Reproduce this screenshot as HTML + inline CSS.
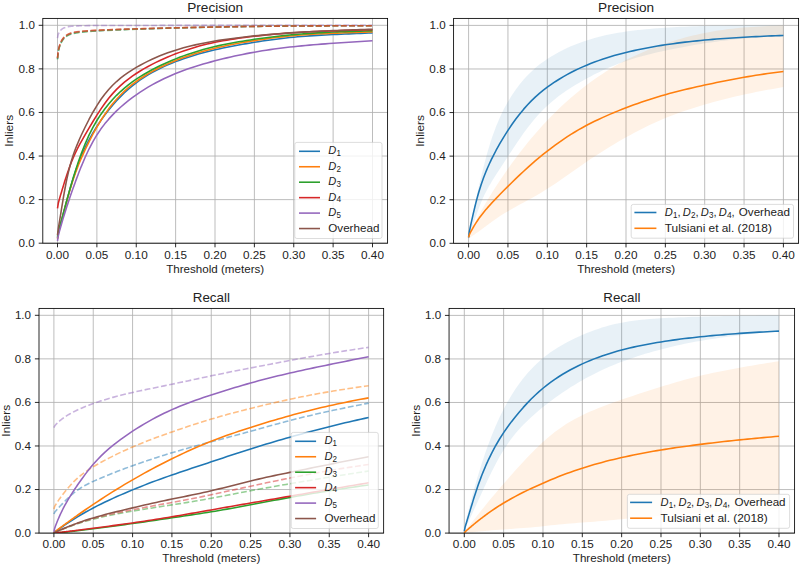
<!DOCTYPE html>
<html><head><meta charset="utf-8"><style>
html,body{margin:0;padding:0;background:#fff;overflow:hidden;}
svg{display:block;}
text{font-family:"Liberation Sans", sans-serif; fill:#222;}
</style></head><body>
<svg width="801" height="564" viewBox="0 0 801 564">
<rect width="801" height="564" fill="#fff"/>
<clipPath id="clipTL"><rect x="42.8" y="18.4" width="344.80" height="224.80"/></clipPath>
<path d="M57.50,18.40V243.20M96.88,18.40V243.20M136.25,18.40V243.20M175.62,18.40V243.20M215.00,18.40V243.20M254.38,18.40V243.20M293.75,18.40V243.20M333.12,18.40V243.20M372.50,18.40V243.20M42.80,243.20H387.60M42.80,199.62H387.60M42.80,156.04H387.60M42.80,112.46H387.60M42.80,68.88H387.60M42.80,25.30H387.60" stroke="#b0b0b0" stroke-width="0.84" fill="none"/>
<g clip-path="url(#clipTL)">
<path d="M57.50,58.60 L58.29,51.00 L59.08,47.64 L59.86,45.12 L60.65,43.10 L61.44,41.46 L62.23,40.09 L63.01,38.95 L63.80,37.99 L64.59,37.18 L65.38,36.48 L66.16,35.88 L66.95,35.37 L67.74,34.92 L68.53,34.53 L69.31,34.18 L70.10,33.88 L70.89,33.61 L71.67,33.37 L72.46,33.15 L73.25,32.96 L74.04,32.78 L74.83,32.62 L75.61,32.48 L76.40,32.34 L77.19,32.22 L77.97,32.11 L78.76,32.00 L79.55,31.90 L80.34,31.81 L81.12,31.72 L85.06,31.34 L89.00,31.04 L92.94,30.78 L96.88,30.56 L100.81,30.35 L104.75,30.17 L108.69,29.99 L112.62,29.83 L116.56,29.68 L120.50,29.53 L124.44,29.39 L128.38,29.26 L132.31,29.13 L136.25,29.00 L140.19,28.88 L144.12,28.76 L148.06,28.65 L152.00,28.54 L155.94,28.43 L159.88,28.32 L163.81,28.22 L167.75,28.11 L171.69,28.01 L175.62,27.92 L179.56,27.82 L183.50,27.73 L187.44,27.64 L191.38,27.55 L195.31,27.46 L199.25,27.38 L203.19,27.29 L207.12,27.21 L211.06,27.14 L215.00,27.06 L218.94,26.99 L222.88,26.91 L226.81,26.84 L230.75,26.77 L234.69,26.71 L238.62,26.64 L242.56,26.58 L246.50,26.52 L250.44,26.46 L254.38,26.41 L258.31,26.36 L262.25,26.31 L266.19,26.26 L270.12,26.21 L274.06,26.17 L278.00,26.13 L281.94,26.10 L285.88,26.06 L289.81,26.03 L293.75,26.00 L297.69,25.98 L301.62,25.95 L305.56,25.93 L309.50,25.91 L313.44,25.89 L317.38,25.88 L321.31,25.86 L325.25,25.85 L329.19,25.83 L333.12,25.82 L337.06,25.81 L341.00,25.80 L344.94,25.79 L348.88,25.78 L352.81,25.77 L356.75,25.76 L360.69,25.76 L364.62,25.75 L368.56,25.74 L372.50,25.74" stroke="#8c564b" stroke-opacity="0.5" stroke-width="1.575" fill="none" stroke-dasharray="5.83 2.52" stroke-linejoin="round"/>
<path d="M57.50,58.82 L58.29,51.21 L59.08,47.86 L59.86,45.33 L60.65,43.31 L61.44,41.66 L62.23,40.30 L63.01,39.15 L63.80,38.19 L64.59,37.37 L65.38,36.68 L66.16,36.08 L66.95,35.56 L67.74,35.11 L68.53,34.71 L69.31,34.37 L70.10,34.06 L70.89,33.79 L71.67,33.55 L72.46,33.33 L73.25,33.13 L74.04,32.96 L74.83,32.79 L75.61,32.65 L76.40,32.51 L77.19,32.38 L77.97,32.27 L78.76,32.16 L79.55,32.06 L80.34,31.96 L81.12,31.87 L85.06,31.48 L89.00,31.17 L92.94,30.90 L96.88,30.67 L100.81,30.46 L104.75,30.27 L108.69,30.09 L112.62,29.92 L116.56,29.76 L120.50,29.61 L124.44,29.47 L128.38,29.33 L132.31,29.20 L136.25,29.07 L140.19,28.95 L144.12,28.83 L148.06,28.71 L152.00,28.59 L155.94,28.48 L159.88,28.37 L163.81,28.27 L167.75,28.16 L171.69,28.06 L175.62,27.96 L179.56,27.86 L183.50,27.77 L187.44,27.67 L191.38,27.58 L195.31,27.49 L199.25,27.41 L203.19,27.32 L207.12,27.24 L211.06,27.16 L215.00,27.08 L218.94,27.01 L222.88,26.93 L226.81,26.86 L230.75,26.79 L234.69,26.72 L238.62,26.66 L242.56,26.59 L246.50,26.53 L250.44,26.47 L254.38,26.42 L258.31,26.36 L262.25,26.31 L266.19,26.26 L270.12,26.22 L274.06,26.18 L278.00,26.14 L281.94,26.10 L285.88,26.07 L289.81,26.03 L293.75,26.01 L297.69,25.98 L301.62,25.95 L305.56,25.93 L309.50,25.91 L313.44,25.89 L317.38,25.88 L321.31,25.86 L325.25,25.85 L329.19,25.83 L333.12,25.82 L337.06,25.81 L341.00,25.80 L344.94,25.79 L348.88,25.78 L352.81,25.77 L356.75,25.76 L360.69,25.76 L364.62,25.75 L368.56,25.74 L372.50,25.74" stroke="#1f77b4" stroke-opacity="0.5" stroke-width="1.575" fill="none" stroke-dasharray="5.83 2.52" stroke-linejoin="round"/>
<path d="M57.50,38.14 L58.29,34.18 L59.08,32.48 L59.86,31.24 L60.65,30.27 L61.44,29.51 L62.23,28.90 L63.01,28.40 L63.80,27.99 L64.59,27.65 L65.38,27.38 L66.16,27.14 L66.95,26.95 L67.74,26.78 L68.53,26.64 L69.31,26.52 L70.10,26.42 L70.89,26.33 L71.67,26.25 L72.46,26.18 L73.25,26.12 L74.04,26.07 L74.83,26.02 L75.61,25.97 L76.40,25.94 L77.19,25.90 L77.97,25.87 L78.76,25.84 L79.55,25.82 L80.34,25.79 L81.12,25.77 L85.06,25.68 L89.00,25.62 L92.94,25.58 L96.88,25.55 L100.81,25.53 L104.75,25.51 L108.69,25.50 L112.62,25.49 L116.56,25.48 L120.50,25.47 L124.44,25.47 L128.38,25.46 L132.31,25.45 L136.25,25.45 L140.19,25.44 L144.12,25.43 L148.06,25.43 L152.00,25.42 L155.94,25.42 L159.88,25.41 L163.81,25.41 L167.75,25.40 L171.69,25.40 L175.62,25.39 L179.56,25.39 L183.50,25.38 L187.44,25.38 L191.38,25.38 L195.31,25.37 L199.25,25.37 L203.19,25.36 L207.12,25.36 L211.06,25.36 L215.00,25.35 L218.94,25.35 L222.88,25.35 L226.81,25.35 L230.75,25.34 L234.69,25.34 L238.62,25.34 L242.56,25.33 L246.50,25.33 L250.44,25.33 L254.38,25.33 L258.31,25.33 L262.25,25.32 L266.19,25.32 L270.12,25.32 L274.06,25.32 L278.00,25.32 L281.94,25.32 L285.88,25.31 L289.81,25.31 L293.75,25.31 L297.69,25.31 L301.62,25.31 L305.56,25.31 L309.50,25.31 L313.44,25.31 L317.38,25.31 L321.31,25.31 L325.25,25.30 L329.19,25.30 L333.12,25.30 L337.06,25.30 L341.00,25.30 L344.94,25.30 L348.88,25.30 L352.81,25.30 L356.75,25.30 L360.69,25.30 L364.62,25.30 L368.56,25.30 L372.50,25.30" stroke="#9467bd" stroke-opacity="0.5" stroke-width="1.575" fill="none" stroke-dasharray="5.83 2.52" stroke-linejoin="round"/>
<path d="M57.50,59.47 L58.29,51.85 L59.08,48.49 L59.86,45.95 L60.65,43.93 L61.44,42.27 L62.23,40.89 L63.01,39.74 L63.80,38.77 L64.59,37.95 L65.38,37.24 L66.16,36.63 L66.95,36.11 L67.74,35.65 L68.53,35.25 L69.31,34.89 L70.10,34.58 L70.89,34.30 L71.67,34.05 L72.46,33.83 L73.25,33.63 L74.04,33.44 L74.83,33.27 L75.61,33.12 L76.40,32.98 L77.19,32.85 L77.97,32.72 L78.76,32.61 L79.55,32.50 L80.34,32.40 L81.12,32.31 L85.06,31.90 L89.00,31.56 L92.94,31.27 L96.88,31.02 L100.81,30.78 L104.75,30.57 L108.69,30.37 L112.62,30.19 L116.56,30.01 L120.50,29.85 L124.44,29.69 L128.38,29.54 L132.31,29.39 L136.25,29.25 L140.19,29.11 L144.12,28.98 L148.06,28.85 L152.00,28.73 L155.94,28.61 L159.88,28.49 L163.81,28.38 L167.75,28.26 L171.69,28.16 L175.62,28.05 L179.56,27.95 L183.50,27.84 L187.44,27.75 L191.38,27.65 L195.31,27.56 L199.25,27.47 L203.19,27.38 L207.12,27.29 L211.06,27.21 L215.00,27.13 L218.94,27.05 L222.88,26.98 L226.81,26.90 L230.75,26.83 L234.69,26.76 L238.62,26.69 L242.56,26.63 L246.50,26.57 L250.44,26.51 L254.38,26.45 L258.31,26.39 L262.25,26.34 L266.19,26.29 L270.12,26.25 L274.06,26.20 L278.00,26.16 L281.94,26.12 L285.88,26.09 L289.81,26.06 L293.75,26.03 L297.69,26.00 L301.62,25.97 L305.56,25.95 L309.50,25.93 L313.44,25.91 L317.38,25.89 L321.31,25.87 L325.25,25.86 L329.19,25.84 L333.12,25.83 L337.06,25.82 L341.00,25.81 L344.94,25.79 L348.88,25.78 L352.81,25.78 L356.75,25.77 L360.69,25.76 L364.62,25.75 L368.56,25.74 L372.50,25.74" stroke="#2ca02c" stroke-opacity="0.5" stroke-width="1.575" fill="none" stroke-dasharray="5.83 2.52" stroke-linejoin="round"/>
<path d="M57.50,58.17 L58.29,50.57 L59.08,47.22 L59.86,44.70 L60.65,42.69 L61.44,41.05 L62.23,39.69 L63.01,38.56 L63.80,37.60 L64.59,36.79 L65.38,36.10 L66.16,35.51 L66.95,35.00 L67.74,34.55 L68.53,34.17 L69.31,33.83 L70.10,33.53 L70.89,33.26 L71.67,33.03 L72.46,32.81 L73.25,32.62 L74.04,32.45 L74.83,32.30 L75.61,32.16 L76.40,32.03 L77.19,31.91 L77.97,31.80 L78.76,31.69 L79.55,31.60 L80.34,31.51 L81.12,31.42 L85.06,31.06 L89.00,30.78 L92.94,30.53 L96.88,30.32 L100.81,30.13 L104.75,29.95 L108.69,29.79 L112.62,29.64 L116.56,29.50 L120.50,29.36 L124.44,29.23 L128.38,29.11 L132.31,28.99 L136.25,28.87 L140.19,28.76 L144.12,28.65 L148.06,28.54 L152.00,28.43 L155.94,28.33 L159.88,28.23 L163.81,28.13 L167.75,28.03 L171.69,27.94 L175.62,27.85 L179.56,27.75 L183.50,27.66 L187.44,27.58 L191.38,27.49 L195.31,27.41 L199.25,27.32 L203.19,27.24 L207.12,27.17 L211.06,27.09 L215.00,27.02 L218.94,26.95 L222.88,26.88 L226.81,26.81 L230.75,26.74 L234.69,26.68 L238.62,26.62 L242.56,26.56 L246.50,26.50 L250.44,26.44 L254.38,26.39 L258.31,26.34 L262.25,26.29 L266.19,26.25 L270.12,26.20 L274.06,26.16 L278.00,26.13 L281.94,26.09 L285.88,26.06 L289.81,26.03 L293.75,26.00 L297.69,25.98 L301.62,25.95 L305.56,25.93 L309.50,25.91 L313.44,25.89 L317.38,25.88 L321.31,25.86 L325.25,25.85 L329.19,25.83 L333.12,25.82 L337.06,25.81 L341.00,25.80 L344.94,25.79 L348.88,25.78 L352.81,25.77 L356.75,25.76 L360.69,25.76 L364.62,25.75 L368.56,25.74 L372.50,25.74" stroke="#ff7f0e" stroke-opacity="0.5" stroke-width="1.575" fill="none" stroke-dasharray="5.83 2.52" stroke-linejoin="round"/>
<path d="M57.50,57.95 L58.29,50.36 L59.08,47.01 L59.86,44.49 L60.65,42.49 L61.44,40.85 L62.23,39.49 L63.01,38.36 L63.80,37.40 L64.59,36.60 L65.38,35.91 L66.16,35.32 L66.95,34.81 L67.74,34.36 L68.53,33.98 L69.31,33.64 L70.10,33.34 L70.89,33.08 L71.67,32.85 L72.46,32.64 L73.25,32.45 L74.04,32.28 L74.83,32.13 L75.61,31.99 L76.40,31.86 L77.19,31.74 L77.97,31.63 L78.76,31.53 L79.55,31.44 L80.34,31.35 L81.12,31.27 L85.06,30.92 L89.00,30.65 L92.94,30.41 L96.88,30.21 L100.81,30.02 L104.75,29.85 L108.69,29.70 L112.62,29.55 L116.56,29.41 L120.50,29.28 L124.44,29.16 L128.38,29.04 L132.31,28.92 L136.25,28.81 L140.19,28.69 L144.12,28.59 L148.06,28.48 L152.00,28.38 L155.94,28.28 L159.88,28.18 L163.81,28.08 L167.75,27.99 L171.69,27.90 L175.62,27.81 L179.56,27.72 L183.50,27.63 L187.44,27.55 L191.38,27.47 L195.31,27.39 L199.25,27.31 L203.19,27.23 L207.12,27.15 L211.06,27.08 L215.00,27.01 L218.94,26.94 L222.88,26.87 L226.81,26.80 L230.75,26.74 L234.69,26.67 L238.62,26.61 L242.56,26.55 L246.50,26.49 L250.44,26.43 L254.38,26.38 L258.31,26.33 L262.25,26.28 L266.19,26.23 L270.12,26.19 L274.06,26.15 L278.00,26.11 L281.94,26.07 L285.88,26.04 L289.81,26.01 L293.75,25.98 L297.69,25.96 L301.62,25.94 L305.56,25.92 L309.50,25.90 L313.44,25.88 L317.38,25.86 L321.31,25.85 L325.25,25.84 L329.19,25.82 L333.12,25.81 L337.06,25.80 L341.00,25.79 L344.94,25.78 L348.88,25.78 L352.81,25.77 L356.75,25.76 L360.69,25.75 L364.62,25.75 L368.56,25.74 L372.50,25.74" stroke="#d62728" stroke-opacity="0.5" stroke-width="1.575" fill="none" stroke-dasharray="5.83 2.52" stroke-linejoin="round"/>
<path d="M57.50,238.11 L58.29,233.10 L59.08,229.97 L59.86,226.97 L60.65,223.98 L61.44,220.99 L62.23,218.00 L63.01,215.00 L63.80,211.99 L64.59,209.00 L65.38,206.01 L66.16,203.05 L66.95,200.11 L67.74,197.21 L68.53,194.34 L69.31,191.53 L70.10,188.76 L70.89,186.06 L71.67,183.41 L72.46,180.82 L73.25,178.30 L74.04,175.84 L74.83,173.45 L75.61,171.12 L76.40,168.86 L77.19,166.66 L77.97,164.52 L78.76,162.44 L79.55,160.42 L80.34,158.46 L81.12,156.55 L85.06,147.72 L89.00,139.90 L92.94,132.87 L96.88,126.47 L100.81,120.57 L104.75,115.10 L108.69,110.00 L112.62,105.24 L116.56,100.79 L120.50,96.64 L124.44,92.77 L128.38,89.19 L132.31,85.86 L136.25,82.79 L140.19,79.95 L144.12,77.31 L148.06,74.87 L152.00,72.59 L155.94,70.47 L159.88,68.48 L163.81,66.61 L167.75,64.85 L171.69,63.19 L175.62,61.62 L179.56,60.14 L183.50,58.74 L187.44,57.41 L191.38,56.14 L195.31,54.94 L199.25,53.81 L203.19,52.73 L207.12,51.70 L211.06,50.73 L215.00,49.80 L218.94,48.91 L222.88,48.07 L226.81,47.26 L230.75,46.48 L234.69,45.73 L238.62,45.00 L242.56,44.30 L246.50,43.62 L250.44,42.96 L254.38,42.32 L258.31,41.70 L262.25,41.09 L266.19,40.52 L270.12,39.96 L274.06,39.43 L278.00,38.93 L281.94,38.45 L285.88,38.01 L289.81,37.59 L293.75,37.20 L297.69,36.84 L301.62,36.50 L305.56,36.19 L309.50,35.91 L313.44,35.64 L317.38,35.39 L321.31,35.16 L325.25,34.95 L329.19,34.74 L333.12,34.55 L337.06,34.37 L341.00,34.19 L344.94,34.02 L348.88,33.85 L352.81,33.69 L356.75,33.54 L360.69,33.38 L364.62,33.23 L368.56,33.08 L372.50,32.94" stroke="#1f77b4" stroke-width="1.575" fill="none" stroke-linejoin="round" stroke-linecap="butt"/>
<path d="M57.50,238.76 L58.29,233.63 L59.08,230.43 L59.86,227.37 L60.65,224.34 L61.44,221.31 L62.23,218.28 L63.01,215.25 L63.80,212.23 L64.59,209.23 L65.38,206.26 L66.16,203.32 L66.95,200.42 L67.74,197.57 L68.53,194.78 L69.31,192.04 L70.10,189.37 L70.89,186.77 L71.67,184.23 L72.46,181.77 L73.25,179.37 L74.04,177.04 L74.83,174.77 L75.61,172.57 L76.40,170.43 L77.19,168.35 L77.97,166.31 L78.76,164.33 L79.55,162.40 L80.34,160.51 L81.12,158.66 L85.06,149.91 L89.00,141.82 L92.94,134.24 L96.88,127.14 L100.81,120.52 L104.75,114.43 L108.69,108.85 L112.62,103.78 L116.56,99.17 L120.50,94.98 L124.44,91.16 L128.38,87.67 L132.31,84.46 L136.25,81.50 L140.19,78.76 L144.12,76.22 L148.06,73.84 L152.00,71.61 L155.94,69.52 L159.88,67.54 L163.81,65.67 L167.75,63.89 L171.69,62.21 L175.62,60.60 L179.56,59.06 L183.50,57.60 L187.44,56.21 L191.38,54.88 L195.31,53.61 L199.25,52.41 L203.19,51.27 L207.12,50.19 L211.06,49.17 L215.00,48.20 L218.94,47.28 L222.88,46.40 L226.81,45.57 L230.75,44.78 L234.69,44.01 L238.62,43.28 L242.56,42.58 L246.50,41.90 L250.44,41.25 L254.38,40.61 L258.31,40.00 L262.25,39.42 L266.19,38.85 L270.12,38.32 L274.06,37.80 L278.00,37.32 L281.94,36.87 L285.88,36.44 L289.81,36.04 L293.75,35.68 L297.69,35.34 L301.62,35.02 L305.56,34.74 L309.50,34.47 L313.44,34.23 L317.38,34.00 L321.31,33.80 L325.25,33.60 L329.19,33.42 L333.12,33.25 L337.06,33.09 L341.00,32.93 L344.94,32.78 L348.88,32.64 L352.81,32.50 L356.75,32.36 L360.69,32.23 L364.62,32.10 L368.56,31.97 L372.50,31.85" stroke="#ff7f0e" stroke-width="1.575" fill="none" stroke-linejoin="round" stroke-linecap="butt"/>
<path d="M57.50,236.59 L58.29,231.86 L59.08,228.89 L59.86,226.02 L60.65,223.16 L61.44,220.28 L62.23,217.39 L63.01,214.48 L63.80,211.55 L64.59,208.63 L65.38,205.70 L66.16,202.79 L66.95,199.89 L67.74,197.01 L68.53,194.16 L69.31,191.34 L70.10,188.55 L70.89,185.81 L71.67,183.11 L72.46,180.44 L73.25,177.83 L74.04,175.25 L74.83,172.73 L75.61,170.24 L76.40,167.81 L77.19,165.42 L77.97,163.07 L78.76,160.77 L79.55,158.52 L80.34,156.32 L81.12,154.16 L85.06,144.08 L89.00,135.17 L92.94,127.37 L96.88,120.51 L100.81,114.43 L104.75,108.96 L108.69,104.00 L112.62,99.47 L116.56,95.33 L120.50,91.54 L124.44,88.07 L128.38,84.87 L132.31,81.92 L136.25,79.18 L140.19,76.62 L144.12,74.22 L148.06,71.95 L152.00,69.80 L155.94,67.76 L159.88,65.81 L163.81,63.96 L167.75,62.18 L171.69,60.49 L175.62,58.88 L179.56,57.34 L183.50,55.87 L187.44,54.47 L191.38,53.14 L195.31,51.88 L199.25,50.69 L203.19,49.56 L207.12,48.49 L211.06,47.48 L215.00,46.54 L218.94,45.64 L222.88,44.80 L226.81,44.00 L230.75,43.24 L234.69,42.52 L238.62,41.83 L242.56,41.17 L246.50,40.53 L250.44,39.92 L254.38,39.33 L258.31,38.76 L262.25,38.21 L266.19,37.68 L270.12,37.17 L274.06,36.69 L278.00,36.22 L281.94,35.78 L285.88,35.37 L289.81,34.98 L293.75,34.61 L297.69,34.27 L301.62,33.95 L305.56,33.65 L309.50,33.37 L313.44,33.11 L317.38,32.87 L321.31,32.65 L325.25,32.45 L329.19,32.26 L333.12,32.08 L337.06,31.91 L341.00,31.76 L344.94,31.61 L348.88,31.47 L352.81,31.34 L356.75,31.22 L360.69,31.10 L364.62,30.98 L368.56,30.87 L372.50,30.76" stroke="#2ca02c" stroke-width="1.575" fill="none" stroke-linejoin="round" stroke-linecap="butt"/>
<path d="M57.50,208.26 L58.29,203.28 L59.08,200.30 L59.86,197.52 L60.65,194.82 L61.44,192.16 L62.23,189.53 L63.01,186.93 L63.80,184.36 L64.59,181.83 L65.38,179.34 L66.16,176.90 L66.95,174.51 L67.74,172.18 L68.53,169.91 L69.31,167.71 L70.10,165.58 L70.89,163.51 L71.67,161.52 L72.46,159.59 L73.25,157.73 L74.04,155.92 L74.83,154.18 L75.61,152.49 L76.40,150.85 L77.19,149.25 L77.97,147.70 L78.76,146.18 L79.55,144.69 L80.34,143.23 L81.12,141.79 L85.06,134.83 L89.00,128.09 L92.94,121.51 L96.88,115.13 L100.81,109.08 L104.75,103.45 L108.69,98.29 L112.62,93.62 L116.56,89.41 L120.50,85.62 L124.44,82.18 L128.38,79.04 L132.31,76.16 L136.25,73.49 L140.19,71.00 L144.12,68.66 L148.06,66.45 L152.00,64.37 L155.94,62.39 L159.88,60.51 L163.81,58.72 L167.75,57.02 L171.69,55.39 L175.62,53.85 L179.56,52.37 L183.50,50.97 L187.44,49.64 L191.38,48.38 L195.31,47.20 L199.25,46.08 L203.19,45.04 L207.12,44.06 L211.06,43.15 L215.00,42.31 L218.94,41.52 L222.88,40.79 L226.81,40.10 L230.75,39.46 L234.69,38.86 L238.62,38.30 L242.56,37.76 L246.50,37.26 L250.44,36.77 L254.38,36.31 L258.31,35.87 L262.25,35.45 L266.19,35.04 L270.12,34.66 L274.06,34.29 L278.00,33.94 L281.94,33.61 L285.88,33.30 L289.81,33.01 L293.75,32.74 L297.69,32.49 L301.62,32.25 L305.56,32.03 L309.50,31.83 L313.44,31.64 L317.38,31.46 L321.31,31.29 L325.25,31.13 L329.19,30.98 L333.12,30.84 L337.06,30.70 L341.00,30.58 L344.94,30.45 L348.88,30.33 L352.81,30.21 L356.75,30.10 L360.69,29.99 L364.62,29.88 L368.56,29.77 L372.50,29.67" stroke="#d62728" stroke-width="1.575" fill="none" stroke-linejoin="round" stroke-linecap="butt"/>
<path d="M57.50,240.94 L58.29,235.73 L59.08,232.62 L59.86,229.72 L60.65,226.92 L61.44,224.18 L62.23,221.49 L63.01,218.86 L63.80,216.27 L64.59,213.72 L65.38,211.22 L66.16,208.75 L66.95,206.31 L67.74,203.91 L68.53,201.54 L69.31,199.19 L70.10,196.87 L70.89,194.58 L71.67,192.30 L72.46,190.05 L73.25,187.82 L74.04,185.61 L74.83,183.42 L75.61,181.26 L76.40,179.11 L77.19,177.00 L77.97,174.90 L78.76,172.84 L79.55,170.80 L80.34,168.80 L81.12,166.82 L85.06,157.46 L89.00,149.04 L92.94,141.55 L96.88,134.94 L100.81,129.09 L104.75,123.86 L108.69,119.15 L112.62,114.85 L116.56,110.90 L120.50,107.23 L124.44,103.82 L128.38,100.62 L132.31,97.61 L136.25,94.78 L140.19,92.10 L144.12,89.57 L148.06,87.17 L152.00,84.90 L155.94,82.74 L159.88,80.70 L163.81,78.76 L167.75,76.92 L171.69,75.19 L175.62,73.54 L179.56,71.99 L183.50,70.51 L187.44,69.10 L191.38,67.77 L195.31,66.49 L199.25,65.27 L203.19,64.09 L207.12,62.96 L211.06,61.87 L215.00,60.82 L218.94,59.81 L222.88,58.82 L226.81,57.88 L230.75,56.96 L234.69,56.08 L238.62,55.23 L242.56,54.42 L246.50,53.63 L250.44,52.89 L254.38,52.17 L258.31,51.49 L262.25,50.83 L266.19,50.21 L270.12,49.62 L274.06,49.06 L278.00,48.53 L281.94,48.03 L285.88,47.55 L289.81,47.09 L293.75,46.66 L297.69,46.25 L301.62,45.86 L305.56,45.49 L309.50,45.13 L313.44,44.79 L317.38,44.47 L321.31,44.16 L325.25,43.85 L329.19,43.56 L333.12,43.28 L337.06,43.01 L341.00,42.74 L344.94,42.48 L348.88,42.22 L352.81,41.97 L356.75,41.73 L360.69,41.49 L364.62,41.25 L368.56,41.02 L372.50,40.78" stroke="#9467bd" stroke-width="1.575" fill="none" stroke-linejoin="round" stroke-linecap="butt"/>
<path d="M57.50,234.99 L58.29,228.53 L59.08,223.87 L59.86,219.14 L60.65,214.30 L61.44,209.42 L62.23,204.57 L63.01,199.81 L63.80,195.19 L64.59,190.74 L65.38,186.49 L66.16,182.45 L66.95,178.64 L67.74,175.04 L68.53,171.66 L69.31,168.48 L70.10,165.49 L70.89,162.67 L71.67,160.01 L72.46,157.49 L73.25,155.10 L74.04,152.82 L74.83,150.64 L75.61,148.55 L76.40,146.53 L77.19,144.58 L77.97,142.68 L78.76,140.84 L79.55,139.03 L80.34,137.27 L81.12,135.53 L85.06,127.25 L89.00,119.49 L92.94,112.24 L96.88,105.57 L100.81,99.55 L104.75,94.19 L108.69,89.46 L112.62,85.27 L116.56,81.55 L120.50,78.22 L124.44,75.19 L128.38,72.41 L132.31,69.84 L136.25,67.44 L140.19,65.20 L144.12,63.09 L148.06,61.11 L152.00,59.24 L155.94,57.48 L159.88,55.83 L163.81,54.28 L167.75,52.82 L171.69,51.45 L175.62,50.17 L179.56,48.97 L183.50,47.84 L187.44,46.79 L191.38,45.80 L195.31,44.88 L199.25,44.01 L203.19,43.19 L207.12,42.43 L211.06,41.71 L215.00,41.03 L218.94,40.39 L222.88,39.79 L226.81,39.21 L230.75,38.67 L234.69,38.16 L238.62,37.66 L242.56,37.19 L246.50,36.74 L250.44,36.31 L254.38,35.90 L258.31,35.50 L262.25,35.12 L266.19,34.75 L270.12,34.40 L274.06,34.06 L278.00,33.74 L281.94,33.43 L285.88,33.14 L289.81,32.86 L293.75,32.60 L297.69,32.35 L301.62,32.12 L305.56,31.90 L309.50,31.69 L313.44,31.49 L317.38,31.29 L321.31,31.11 L325.25,30.94 L329.19,30.77 L333.12,30.61 L337.06,30.46 L341.00,30.31 L344.94,30.16 L348.88,30.02 L352.81,29.88 L356.75,29.75 L360.69,29.62 L364.62,29.48 L368.56,29.36 L372.50,29.23" stroke="#8c564b" stroke-width="1.575" fill="none" stroke-linejoin="round" stroke-linecap="butt"/>
</g>
<rect x="42.80" y="18.40" width="344.80" height="224.80" fill="none" stroke="#000" stroke-width="0.84"/>
<path d="M57.50,243.20v4.1M96.88,243.20v4.1M136.25,243.20v4.1M175.62,243.20v4.1M215.00,243.20v4.1M254.38,243.20v4.1M293.75,243.20v4.1M333.12,243.20v4.1M372.50,243.20v4.1M42.80,243.20h-4.1M42.80,199.62h-4.1M42.80,156.04h-4.1M42.80,112.46h-4.1M42.80,68.88h-4.1M42.80,25.30h-4.1" stroke="#000" stroke-width="0.84" fill="none"/>
<text x="57.50" y="258.50" font-size="11.13" text-anchor="middle" textLength="22.90" lengthAdjust="spacingAndGlyphs">0.00</text>
<text x="96.88" y="258.50" font-size="11.13" text-anchor="middle" textLength="22.74" lengthAdjust="spacingAndGlyphs">0.05</text>
<text x="136.25" y="258.50" font-size="11.13" text-anchor="middle" textLength="22.90" lengthAdjust="spacingAndGlyphs">0.10</text>
<text x="175.62" y="258.50" font-size="11.13" text-anchor="middle" textLength="22.74" lengthAdjust="spacingAndGlyphs">0.15</text>
<text x="215.00" y="258.50" font-size="11.13" text-anchor="middle" textLength="22.90" lengthAdjust="spacingAndGlyphs">0.20</text>
<text x="254.38" y="258.50" font-size="11.13" text-anchor="middle" textLength="22.74" lengthAdjust="spacingAndGlyphs">0.25</text>
<text x="293.75" y="258.50" font-size="11.13" text-anchor="middle" textLength="22.90" lengthAdjust="spacingAndGlyphs">0.30</text>
<text x="333.12" y="258.50" font-size="11.13" text-anchor="middle" textLength="22.74" lengthAdjust="spacingAndGlyphs">0.35</text>
<text x="372.50" y="258.50" font-size="11.13" text-anchor="middle" textLength="22.90" lengthAdjust="spacingAndGlyphs">0.40</text>
<text x="34.85" y="247.10" font-size="11.13" text-anchor="end" textLength="16.21" lengthAdjust="spacingAndGlyphs">0.0</text>
<text x="34.85" y="203.52" font-size="11.13" text-anchor="end" textLength="16.00" lengthAdjust="spacingAndGlyphs">0.2</text>
<text x="34.85" y="159.94" font-size="11.13" text-anchor="end" textLength="16.26" lengthAdjust="spacingAndGlyphs">0.4</text>
<text x="34.85" y="116.36" font-size="11.13" text-anchor="end" textLength="16.32" lengthAdjust="spacingAndGlyphs">0.6</text>
<text x="34.85" y="72.78" font-size="11.13" text-anchor="end" textLength="16.27" lengthAdjust="spacingAndGlyphs">0.8</text>
<text x="34.85" y="29.20" font-size="11.13" text-anchor="end" textLength="16.14" lengthAdjust="spacingAndGlyphs">1.0</text>
<text x="215.20" y="272.50" font-size="11.13" text-anchor="middle" textLength="97.95" lengthAdjust="spacingAndGlyphs">Threshold (meters)</text>
<text x="13.30" y="130.80" font-size="11.13" text-anchor="middle" textLength="31.75" lengthAdjust="spacingAndGlyphs" transform="rotate(-90 13.30 130.80)">Inliers</text>
<text x="215.20" y="12.20" font-size="13.36" text-anchor="middle" textLength="55.94" lengthAdjust="spacingAndGlyphs">Precision</text>
<rect x="294.80" y="142.40" width="87.20" height="96.10" rx="2.1" ry="2.1" fill="#fff" fill-opacity="0.8" stroke="#cccccc" stroke-opacity="0.8" stroke-width="0.84"/>
<path d="M299.00,151.30h21" stroke="#1f77b4" stroke-width="1.575"/>
<text x="328.30" y="154.30" font-size="11.13" font-style="italic" textLength="8.04" lengthAdjust="spacingAndGlyphs">D</text>
<text x="336.44" y="156.10" font-size="8.46" textLength="4.44" lengthAdjust="spacingAndGlyphs">1</text>
<path d="M299.00,166.75h21" stroke="#ff7f0e" stroke-width="1.575"/>
<text x="328.30" y="169.75" font-size="11.13" font-style="italic" textLength="8.04" lengthAdjust="spacingAndGlyphs">D</text>
<text x="336.44" y="171.55" font-size="8.46" textLength="4.49" lengthAdjust="spacingAndGlyphs">2</text>
<path d="M299.00,182.20h21" stroke="#2ca02c" stroke-width="1.575"/>
<text x="328.30" y="185.20" font-size="11.13" font-style="italic" textLength="8.04" lengthAdjust="spacingAndGlyphs">D</text>
<text x="336.44" y="187.00" font-size="8.46" textLength="4.48" lengthAdjust="spacingAndGlyphs">3</text>
<path d="M299.00,197.65h21" stroke="#d62728" stroke-width="1.575"/>
<text x="328.30" y="200.65" font-size="11.13" font-style="italic" textLength="8.04" lengthAdjust="spacingAndGlyphs">D</text>
<text x="336.44" y="202.45" font-size="8.46" textLength="4.66" lengthAdjust="spacingAndGlyphs">4</text>
<path d="M299.00,213.10h21" stroke="#9467bd" stroke-width="1.575"/>
<text x="328.30" y="216.10" font-size="11.13" font-style="italic" textLength="8.04" lengthAdjust="spacingAndGlyphs">D</text>
<text x="336.44" y="217.90" font-size="8.46" textLength="4.44" lengthAdjust="spacingAndGlyphs">5</text>
<path d="M299.00,228.55h21" stroke="#8c564b" stroke-width="1.575"/>
<text x="328.30" y="232.25" font-size="11.13" text-anchor="start" textLength="51.07" lengthAdjust="spacingAndGlyphs">Overhead</text>
<clipPath id="clipTR"><rect x="453.6" y="18.4" width="345.00" height="224.90"/></clipPath>
<path d="M468.60,18.40V243.30M507.95,18.40V243.30M547.30,18.40V243.30M586.65,18.40V243.30M626.00,18.40V243.30M665.35,18.40V243.30M704.70,18.40V243.30M744.05,18.40V243.30M783.40,18.40V243.30M453.60,243.30H798.60M453.60,199.72H798.60M453.60,156.14H798.60M453.60,112.56H798.60M453.60,68.98H798.60M453.60,25.40H798.60" stroke="#b0b0b0" stroke-width="0.84" fill="none"/>
<g clip-path="url(#clipTR)">
<path d="M468.60,236.66 L469.39,229.96 L470.17,225.90 L470.96,222.07 L471.75,218.33 L472.54,214.65 L473.32,211.01 L474.11,207.40 L474.90,203.82 L475.68,200.28 L476.47,196.77 L477.26,193.30 L478.04,189.85 L478.83,186.45 L479.62,183.08 L480.41,179.76 L481.19,176.48 L481.98,173.25 L482.77,170.07 L483.55,166.95 L484.34,163.89 L485.13,160.89 L485.91,157.95 L486.70,155.08 L487.49,152.29 L488.28,149.56 L489.06,146.91 L489.85,144.33 L490.64,141.82 L491.42,139.38 L492.21,137.02 L496.15,126.22 L500.08,116.93 L504.01,108.85 L507.95,101.71 L511.88,95.32 L515.82,89.56 L519.75,84.33 L523.69,79.59 L527.62,75.28 L531.56,71.38 L535.50,67.84 L539.43,64.62 L543.37,61.68 L547.30,58.98 L551.24,56.49 L555.17,54.17 L559.11,52.02 L563.04,50.00 L566.98,48.12 L570.91,46.36 L574.85,44.71 L578.78,43.17 L582.72,41.74 L586.65,40.40 L590.59,39.17 L594.52,38.02 L598.46,36.96 L602.39,35.98 L606.33,35.07 L610.26,34.24 L614.19,33.48 L618.13,32.78 L622.07,32.14 L626.00,31.55 L629.93,31.01 L633.87,30.52 L637.81,30.07 L641.74,29.66 L645.67,29.27 L649.61,28.92 L653.54,28.59 L657.48,28.29 L661.41,28.00 L665.35,27.73 L669.28,27.49 L673.22,27.25 L677.15,27.04 L681.09,26.84 L685.02,26.66 L688.96,26.49 L692.89,26.35 L696.83,26.21 L700.76,26.09 L704.70,25.99 L708.63,25.90 L712.57,25.82 L716.50,25.75 L720.44,25.69 L724.38,25.65 L728.31,25.60 L732.25,25.57 L736.18,25.54 L740.12,25.52 L744.05,25.50 L747.98,25.48 L751.92,25.47 L755.86,25.45 L759.79,25.44 L763.72,25.43 L767.66,25.43 L771.60,25.42 L775.53,25.41 L779.46,25.41 L783.40,25.40 L783.40,35.88 L779.46,36.11 L775.53,36.34 L771.60,36.57 L767.66,36.82 L763.72,37.08 L759.79,37.35 L755.86,37.63 L751.92,37.93 L747.98,38.25 L744.05,38.60 L740.12,38.96 L736.18,39.34 L732.25,39.75 L728.31,40.18 L724.38,40.64 L720.44,41.12 L716.50,41.63 L712.57,42.17 L708.63,42.73 L704.70,43.32 L700.76,43.94 L696.83,44.58 L692.89,45.25 L688.96,45.94 L685.02,46.65 L681.09,47.39 L677.15,48.15 L673.22,48.93 L669.28,49.74 L665.35,50.57 L661.41,51.43 L657.48,52.31 L653.54,53.23 L649.61,54.18 L645.67,55.18 L641.74,56.22 L637.81,57.32 L633.87,58.48 L629.93,59.71 L626.00,61.01 L622.07,62.38 L618.13,63.85 L614.19,65.39 L610.26,67.02 L606.33,68.74 L602.39,70.53 L598.46,72.41 L594.52,74.36 L590.59,76.38 L586.65,78.48 L582.72,80.65 L578.78,82.91 L574.85,85.25 L570.91,87.69 L566.98,90.25 L563.04,92.95 L559.11,95.82 L555.17,98.89 L551.24,102.18 L547.30,105.71 L543.37,109.52 L539.43,113.62 L535.50,118.02 L531.56,122.73 L527.62,127.75 L523.69,133.05 L519.75,138.63 L515.82,144.43 L511.88,150.39 L507.95,156.43 L504.01,162.48 L500.08,168.52 L496.15,174.57 L492.21,180.79 L491.42,182.07 L490.64,183.38 L489.85,184.71 L489.06,186.08 L488.28,187.47 L487.49,188.90 L486.70,190.38 L485.91,191.90 L485.13,193.48 L484.34,195.11 L483.55,196.79 L482.77,198.54 L481.98,200.36 L481.19,202.23 L480.41,204.18 L479.62,206.19 L478.83,208.25 L478.04,210.38 L477.26,212.56 L476.47,214.77 L475.68,217.03 L474.90,219.30 L474.11,221.59 L473.32,223.88 L472.54,226.16 L471.75,228.43 L470.96,230.68 L470.17,232.92 L469.39,235.24 L468.60,238.88Z" fill="#1f77b4" fill-opacity="0.1" stroke="none"/>
<path d="M468.60,236.72 L469.39,233.88 L470.17,232.15 L470.96,230.53 L471.75,228.93 L472.54,227.36 L473.32,225.81 L474.11,224.27 L474.90,222.74 L475.68,221.23 L476.47,219.73 L477.26,218.25 L478.04,216.77 L478.83,215.32 L479.62,213.87 L480.41,212.44 L481.19,211.02 L481.98,209.61 L482.77,208.22 L483.55,206.84 L484.34,205.47 L485.13,204.11 L485.91,202.76 L486.70,201.42 L487.49,200.10 L488.28,198.78 L489.06,197.48 L489.85,196.19 L490.64,194.90 L491.42,193.63 L492.21,192.36 L496.15,186.17 L500.08,180.18 L504.01,174.39 L507.95,168.77 L511.88,163.30 L515.82,157.98 L519.75,152.79 L523.69,147.75 L527.62,142.85 L531.56,138.08 L535.50,133.46 L539.43,128.97 L543.37,124.62 L547.30,120.41 L551.24,116.33 L555.17,112.38 L559.11,108.55 L563.04,104.85 L566.98,101.26 L570.91,97.79 L574.85,94.43 L578.78,91.19 L582.72,88.05 L586.65,85.01 L590.59,82.08 L594.52,79.26 L598.46,76.53 L602.39,73.90 L606.33,71.37 L610.26,68.93 L614.19,66.59 L618.13,64.34 L622.07,62.18 L626.00,60.11 L629.93,58.12 L633.87,56.22 L637.81,54.39 L641.74,52.64 L645.67,50.96 L649.61,49.35 L653.54,47.80 L657.48,46.32 L661.41,44.89 L665.35,43.53 L669.28,42.22 L673.22,40.97 L677.15,39.78 L681.09,38.64 L685.02,37.56 L688.96,36.53 L692.89,35.55 L696.83,34.63 L700.76,33.76 L704.70,32.94 L708.63,32.18 L712.57,31.47 L716.50,30.81 L720.44,30.20 L724.38,29.63 L728.31,29.12 L732.25,28.65 L736.18,28.22 L740.12,27.84 L744.05,27.49 L747.98,27.18 L751.92,26.90 L755.86,26.65 L759.79,26.42 L763.72,26.22 L767.66,26.03 L771.60,25.87 L775.53,25.71 L779.46,25.57 L783.40,25.43 L783.40,87.11 L779.46,87.78 L775.53,88.46 L771.60,89.15 L767.66,89.86 L763.72,90.58 L759.79,91.32 L755.86,92.09 L751.92,92.88 L747.98,93.69 L744.05,94.53 L740.12,95.40 L736.18,96.30 L732.25,97.22 L728.31,98.18 L724.38,99.16 L720.44,100.18 L716.50,101.22 L712.57,102.29 L708.63,103.39 L704.70,104.53 L700.76,105.69 L696.83,106.89 L692.89,108.13 L688.96,109.40 L685.02,110.72 L681.09,112.08 L677.15,113.49 L673.22,114.95 L669.28,116.48 L665.35,118.06 L661.41,119.70 L657.48,121.41 L653.54,123.19 L649.61,125.03 L645.67,126.93 L641.74,128.90 L637.81,130.93 L633.87,133.01 L629.93,135.15 L626.00,137.33 L622.07,139.57 L618.13,141.85 L614.19,144.18 L610.26,146.55 L606.33,148.97 L602.39,151.44 L598.46,153.95 L594.52,156.50 L590.59,159.11 L586.65,161.75 L582.72,164.44 L578.78,167.17 L574.85,169.93 L570.91,172.70 L566.98,175.48 L563.04,178.24 L559.11,180.98 L555.17,183.66 L551.24,186.29 L547.30,188.83 L543.37,191.30 L539.43,193.68 L535.50,195.98 L531.56,198.20 L527.62,200.37 L523.69,202.51 L519.75,204.62 L515.82,206.74 L511.88,208.91 L507.95,211.16 L504.01,213.52 L500.08,216.03 L496.15,218.70 L492.21,221.52 L491.42,222.10 L490.64,222.68 L489.85,223.26 L489.06,223.84 L488.28,224.43 L487.49,225.02 L486.70,225.60 L485.91,226.19 L485.13,226.78 L484.34,227.36 L483.55,227.95 L482.77,228.53 L481.98,229.11 L481.19,229.68 L480.41,230.26 L479.62,230.83 L478.83,231.39 L478.04,231.96 L477.26,232.52 L476.47,233.07 L475.68,233.62 L474.90,234.17 L474.11,234.72 L473.32,235.26 L472.54,235.81 L471.75,236.35 L470.96,236.89 L470.17,237.43 L469.39,238.00 L468.60,238.93Z" fill="#ff7f0e" fill-opacity="0.1" stroke="none"/>
<path d="M468.60,237.32 L469.39,231.32 L470.17,227.55 L470.96,223.94 L471.75,220.38 L472.54,216.88 L473.32,213.43 L474.11,210.06 L474.90,206.79 L475.68,203.61 L476.47,200.55 L477.26,197.60 L478.04,194.76 L478.83,192.04 L479.62,189.43 L480.41,186.92 L481.19,184.51 L481.98,182.19 L482.77,179.96 L483.55,177.81 L484.34,175.73 L485.13,173.72 L485.91,171.77 L486.70,169.87 L487.49,168.03 L488.28,166.23 L489.06,164.48 L489.85,162.77 L490.64,161.10 L491.42,159.46 L492.21,157.85 L496.15,150.24 L500.08,143.19 L504.01,136.60 L507.95,130.39 L511.88,124.55 L515.82,119.06 L519.75,113.92 L523.69,109.14 L527.62,104.72 L531.56,100.64 L535.50,96.88 L539.43,93.40 L543.37,90.17 L547.30,87.17 L551.24,84.36 L555.17,81.72 L559.11,79.23 L563.04,76.87 L566.98,74.64 L570.91,72.53 L574.85,70.53 L578.78,68.64 L582.72,66.86 L586.65,65.17 L590.59,63.57 L594.52,62.06 L598.46,60.62 L602.39,59.27 L606.33,57.99 L610.26,56.77 L614.19,55.61 L618.13,54.51 L622.07,53.47 L626.00,52.47 L629.93,51.53 L633.87,50.62 L637.81,49.77 L641.74,48.95 L645.67,48.17 L649.61,47.42 L653.54,46.72 L657.48,46.04 L661.41,45.40 L665.35,44.79 L669.28,44.21 L673.22,43.66 L677.15,43.13 L681.09,42.63 L685.02,42.15 L688.96,41.70 L692.89,41.27 L696.83,40.85 L700.76,40.46 L704.70,40.09 L708.63,39.73 L712.57,39.39 L716.50,39.07 L720.44,38.76 L724.38,38.47 L728.31,38.19 L732.25,37.93 L736.18,37.68 L740.12,37.44 L744.05,37.22 L747.98,37.00 L751.92,36.80 L755.86,36.61 L759.79,36.42 L763.72,36.24 L767.66,36.07 L771.60,35.91 L775.53,35.75 L779.46,35.59 L783.40,35.44" stroke="#1f77b4" stroke-width="1.575" fill="none" stroke-linejoin="round" stroke-linecap="butt"/>
<path d="M468.60,237.38 L469.39,234.63 L470.17,233.00 L470.96,231.48 L471.75,230.03 L472.54,228.61 L473.32,227.24 L474.11,225.91 L474.90,224.61 L475.68,223.35 L476.47,222.13 L477.26,220.94 L478.04,219.78 L478.83,218.65 L479.62,217.55 L480.41,216.48 L481.19,215.44 L481.98,214.41 L482.77,213.41 L483.55,212.43 L484.34,211.47 L485.13,210.52 L485.91,209.59 L486.70,208.67 L487.49,207.77 L488.28,206.87 L489.06,205.99 L489.85,205.12 L490.64,204.25 L491.42,203.39 L492.21,202.54 L496.15,198.35 L500.08,194.27 L504.01,190.27 L507.95,186.32 L511.88,182.44 L515.82,178.63 L519.75,174.88 L523.69,171.22 L527.62,167.63 L531.56,164.13 L535.50,160.72 L539.43,157.41 L543.37,154.20 L547.30,151.08 L551.24,148.06 L555.17,145.13 L559.11,142.31 L563.04,139.58 L566.98,136.95 L570.91,134.42 L574.85,132.00 L578.78,129.67 L582.72,127.44 L586.65,125.31 L590.59,123.26 L594.52,121.30 L598.46,119.42 L602.39,117.60 L606.33,115.85 L610.26,114.15 L614.19,112.50 L618.13,110.89 L622.07,109.33 L626.00,107.80 L629.93,106.30 L633.87,104.84 L637.81,103.42 L641.74,102.04 L645.67,100.70 L649.61,99.40 L653.54,98.15 L657.48,96.94 L661.41,95.77 L665.35,94.65 L669.28,93.57 L673.22,92.52 L677.15,91.51 L681.09,90.53 L685.02,89.57 L688.96,88.64 L692.89,87.73 L696.83,86.84 L700.76,85.96 L704.70,85.10 L708.63,84.25 L712.57,83.41 L716.50,82.58 L720.44,81.77 L724.38,80.98 L728.31,80.20 L732.25,79.44 L736.18,78.71 L740.12,77.99 L744.05,77.29 L747.98,76.62 L751.92,75.97 L755.86,75.34 L759.79,74.73 L763.72,74.14 L767.66,73.57 L771.60,73.01 L775.53,72.47 L779.46,71.94 L783.40,71.42" stroke="#ff7f0e" stroke-width="1.575" fill="none" stroke-linejoin="round" stroke-linecap="butt"/>
</g>
<rect x="453.60" y="18.40" width="345.00" height="224.90" fill="none" stroke="#000" stroke-width="0.84"/>
<path d="M468.60,243.30v4.1M507.95,243.30v4.1M547.30,243.30v4.1M586.65,243.30v4.1M626.00,243.30v4.1M665.35,243.30v4.1M704.70,243.30v4.1M744.05,243.30v4.1M783.40,243.30v4.1M453.60,243.30h-4.1M453.60,199.72h-4.1M453.60,156.14h-4.1M453.60,112.56h-4.1M453.60,68.98h-4.1M453.60,25.40h-4.1" stroke="#000" stroke-width="0.84" fill="none"/>
<text x="468.60" y="258.60" font-size="11.13" text-anchor="middle" textLength="22.90" lengthAdjust="spacingAndGlyphs">0.00</text>
<text x="507.95" y="258.60" font-size="11.13" text-anchor="middle" textLength="22.74" lengthAdjust="spacingAndGlyphs">0.05</text>
<text x="547.30" y="258.60" font-size="11.13" text-anchor="middle" textLength="22.90" lengthAdjust="spacingAndGlyphs">0.10</text>
<text x="586.65" y="258.60" font-size="11.13" text-anchor="middle" textLength="22.74" lengthAdjust="spacingAndGlyphs">0.15</text>
<text x="626.00" y="258.60" font-size="11.13" text-anchor="middle" textLength="22.90" lengthAdjust="spacingAndGlyphs">0.20</text>
<text x="665.35" y="258.60" font-size="11.13" text-anchor="middle" textLength="22.74" lengthAdjust="spacingAndGlyphs">0.25</text>
<text x="704.70" y="258.60" font-size="11.13" text-anchor="middle" textLength="22.90" lengthAdjust="spacingAndGlyphs">0.30</text>
<text x="744.05" y="258.60" font-size="11.13" text-anchor="middle" textLength="22.74" lengthAdjust="spacingAndGlyphs">0.35</text>
<text x="783.40" y="258.60" font-size="11.13" text-anchor="middle" textLength="22.90" lengthAdjust="spacingAndGlyphs">0.40</text>
<text x="445.65" y="247.20" font-size="11.13" text-anchor="end" textLength="16.21" lengthAdjust="spacingAndGlyphs">0.0</text>
<text x="445.65" y="203.62" font-size="11.13" text-anchor="end" textLength="16.00" lengthAdjust="spacingAndGlyphs">0.2</text>
<text x="445.65" y="160.04" font-size="11.13" text-anchor="end" textLength="16.26" lengthAdjust="spacingAndGlyphs">0.4</text>
<text x="445.65" y="116.46" font-size="11.13" text-anchor="end" textLength="16.32" lengthAdjust="spacingAndGlyphs">0.6</text>
<text x="445.65" y="72.88" font-size="11.13" text-anchor="end" textLength="16.27" lengthAdjust="spacingAndGlyphs">0.8</text>
<text x="445.65" y="29.30" font-size="11.13" text-anchor="end" textLength="16.14" lengthAdjust="spacingAndGlyphs">1.0</text>
<text x="626.10" y="272.60" font-size="11.13" text-anchor="middle" textLength="97.95" lengthAdjust="spacingAndGlyphs">Threshold (meters)</text>
<text x="424.10" y="130.85" font-size="11.13" text-anchor="middle" textLength="31.75" lengthAdjust="spacingAndGlyphs" transform="rotate(-90 424.10 130.85)">Inliers</text>
<text x="626.10" y="12.20" font-size="13.36" text-anchor="middle" textLength="55.94" lengthAdjust="spacingAndGlyphs">Precision</text>
<rect x="631.20" y="204.40" width="162.30" height="33.80" rx="2.1" ry="2.1" fill="#fff" fill-opacity="0.8" stroke="#cccccc" stroke-opacity="0.8" stroke-width="0.84"/>
<path d="M634.40,212.50h22" stroke="#1f77b4" stroke-width="1.575"/>
<path d="M634.40,228.30h22" stroke="#ff7f0e" stroke-width="1.575"/>
<text x="664.80" y="215.90" font-size="11.13" font-style="italic" textLength="8.04" lengthAdjust="spacingAndGlyphs">D</text>
<text x="672.94" y="217.70" font-size="8.46" textLength="4.44" lengthAdjust="spacingAndGlyphs">1</text>
<text x="677.40" y="215.90" font-size="11.13">,</text>
<text x="682.80" y="215.90" font-size="11.13" font-style="italic" textLength="8.04" lengthAdjust="spacingAndGlyphs">D</text>
<text x="690.94" y="217.70" font-size="8.46" textLength="4.49" lengthAdjust="spacingAndGlyphs">2</text>
<text x="695.40" y="215.90" font-size="11.13">,</text>
<text x="700.80" y="215.90" font-size="11.13" font-style="italic" textLength="8.04" lengthAdjust="spacingAndGlyphs">D</text>
<text x="708.94" y="217.70" font-size="8.46" textLength="4.48" lengthAdjust="spacingAndGlyphs">3</text>
<text x="713.40" y="215.90" font-size="11.13">,</text>
<text x="718.80" y="215.90" font-size="11.13" font-style="italic" textLength="8.04" lengthAdjust="spacingAndGlyphs">D</text>
<text x="726.94" y="217.70" font-size="8.46" textLength="4.66" lengthAdjust="spacingAndGlyphs">4</text>
<text x="731.40" y="215.90" font-size="11.13">,</text>
<text x="738.80" y="215.90" font-size="11.13" text-anchor="start" textLength="51.07" lengthAdjust="spacingAndGlyphs">Overhead</text>
<text x="664.80" y="232.00" font-size="11.13" text-anchor="start" textLength="107.14" lengthAdjust="spacingAndGlyphs">Tulsiani et al. (2018)</text>
<clipPath id="clipBL"><rect x="39.0" y="308.4" width="344.65" height="224.70"/></clipPath>
<path d="M53.90,308.40V533.10M93.24,308.40V533.10M132.58,308.40V533.10M171.91,308.40V533.10M211.25,308.40V533.10M250.59,308.40V533.10M289.93,308.40V533.10M329.26,308.40V533.10M368.60,308.40V533.10M39.00,533.10H383.65M39.00,489.54H383.65M39.00,445.98H383.65M39.00,402.42H383.65M39.00,358.86H383.65M39.00,315.30H383.65" stroke="#b0b0b0" stroke-width="0.84" fill="none"/>
<g clip-path="url(#clipBL)">
<path d="M53.90,514.00 L54.69,512.33 L55.47,511.33 L56.26,510.40 L57.05,509.50 L57.83,508.62 L58.62,507.76 L59.41,506.91 L60.19,506.06 L60.98,505.23 L61.77,504.41 L62.55,503.59 L63.34,502.78 L64.13,501.98 L64.91,501.19 L65.70,500.40 L66.49,499.62 L67.27,498.85 L68.06,498.09 L68.85,497.34 L69.64,496.60 L70.42,495.88 L71.21,495.17 L72.00,494.47 L72.78,493.80 L73.57,493.13 L74.36,492.49 L75.14,491.86 L75.93,491.26 L76.72,490.67 L77.50,490.09 L81.44,487.48 L85.37,485.21 L89.30,483.20 L93.24,481.35 L97.17,479.61 L101.11,477.93 L105.04,476.29 L108.97,474.69 L112.91,473.13 L116.84,471.59 L120.77,470.08 L124.71,468.60 L128.64,467.15 L132.58,465.72 L136.51,464.32 L140.44,462.94 L144.38,461.59 L148.31,460.26 L152.24,458.95 L156.18,457.67 L160.11,456.41 L164.05,455.17 L167.98,453.96 L171.91,452.77 L175.85,451.60 L179.78,450.44 L183.71,449.31 L187.65,448.20 L191.58,447.10 L195.52,446.01 L199.45,444.94 L203.38,443.88 L207.32,442.83 L211.25,441.78 L215.18,440.74 L219.12,439.71 L223.05,438.67 L226.99,437.63 L230.92,436.59 L234.85,435.54 L238.79,434.48 L242.72,433.41 L246.65,432.34 L250.59,431.26 L254.52,430.17 L258.46,429.08 L262.39,427.98 L266.32,426.89 L270.26,425.80 L274.19,424.72 L278.12,423.65 L282.06,422.59 L285.99,421.54 L289.93,420.51 L293.86,419.50 L297.79,418.51 L301.73,417.54 L305.66,416.59 L309.59,415.65 L313.53,414.73 L317.46,413.83 L321.40,412.94 L325.33,412.06 L329.26,411.20 L333.20,410.35 L337.13,409.51 L341.06,408.68 L345.00,407.86 L348.93,407.05 L352.87,406.25 L356.80,405.45 L360.73,404.66 L364.67,403.88 L368.60,403.11" stroke="#1f77b4" stroke-opacity="0.5" stroke-width="1.575" fill="none" stroke-dasharray="5.83 2.52" stroke-linejoin="round"/>
<path d="M53.90,508.89 L54.69,506.48 L55.47,505.06 L56.26,503.77 L57.05,502.53 L57.83,501.34 L58.62,500.18 L59.41,499.05 L60.19,497.96 L60.98,496.88 L61.77,495.83 L62.55,494.79 L63.34,493.77 L64.13,492.77 L64.91,491.78 L65.70,490.81 L66.49,489.85 L67.27,488.90 L68.06,487.97 L68.85,487.05 L69.64,486.15 L70.42,485.27 L71.21,484.40 L72.00,483.55 L72.78,482.71 L73.57,481.90 L74.36,481.10 L75.14,480.33 L75.93,479.57 L76.72,478.83 L77.50,478.11 L81.44,474.79 L85.37,471.86 L89.30,469.23 L93.24,466.79 L97.17,464.49 L101.11,462.28 L105.04,460.16 L108.97,458.09 L112.91,456.09 L116.84,454.15 L120.77,452.27 L124.71,450.44 L128.64,448.67 L132.58,446.95 L136.51,445.29 L140.44,443.67 L144.38,442.10 L148.31,440.56 L152.24,439.06 L156.18,437.58 L160.11,436.14 L164.05,434.71 L167.98,433.31 L171.91,431.92 L175.85,430.56 L179.78,429.21 L183.71,427.88 L187.65,426.56 L191.58,425.27 L195.52,424.00 L199.45,422.75 L203.38,421.52 L207.32,420.31 L211.25,419.12 L215.18,417.96 L219.12,416.82 L223.05,415.70 L226.99,414.60 L230.92,413.52 L234.85,412.46 L238.79,411.41 L242.72,410.39 L246.65,409.38 L250.59,408.39 L254.52,407.41 L258.46,406.45 L262.39,405.51 L266.32,404.57 L270.26,403.66 L274.19,402.75 L278.12,401.86 L282.06,400.99 L285.99,400.13 L289.93,399.28 L293.86,398.45 L297.79,397.63 L301.73,396.83 L305.66,396.05 L309.59,395.28 L313.53,394.53 L317.46,393.80 L321.40,393.08 L325.33,392.39 L329.26,391.71 L333.20,391.04 L337.13,390.40 L341.06,389.76 L345.00,389.15 L348.93,388.54 L352.87,387.95 L356.80,387.37 L360.73,386.80 L364.67,386.24 L368.60,385.68" stroke="#ff7f0e" stroke-opacity="0.5" stroke-width="1.575" fill="none" stroke-dasharray="5.83 2.52" stroke-linejoin="round"/>
<path d="M53.90,533.09 L54.69,532.50 L55.47,532.14 L56.26,531.80 L57.05,531.47 L57.83,531.14 L58.62,530.81 L59.41,530.49 L60.19,530.17 L60.98,529.85 L61.77,529.53 L62.55,529.22 L63.34,528.90 L64.13,528.59 L64.91,528.29 L65.70,527.98 L66.49,527.68 L67.27,527.38 L68.06,527.08 L68.85,526.79 L69.64,526.50 L70.42,526.21 L71.21,525.92 L72.00,525.64 L72.78,525.36 L73.57,525.08 L74.36,524.81 L75.14,524.54 L75.93,524.27 L76.72,524.00 L77.50,523.74 L81.44,522.48 L85.37,521.28 L89.30,520.17 L93.24,519.12 L97.17,518.14 L101.11,517.21 L105.04,516.33 L108.97,515.50 L112.91,514.70 L116.84,513.93 L120.77,513.19 L124.71,512.48 L128.64,511.78 L132.58,511.10 L136.51,510.44 L140.44,509.79 L144.38,509.16 L148.31,508.53 L152.24,507.91 L156.18,507.30 L160.11,506.69 L164.05,506.08 L167.98,505.47 L171.91,504.85 L175.85,504.24 L179.78,503.62 L183.71,502.99 L187.65,502.35 L191.58,501.70 L195.52,501.04 L199.45,500.36 L203.38,499.67 L207.32,498.97 L211.25,498.25 L215.18,497.53 L219.12,496.79 L223.05,496.04 L226.99,495.29 L230.92,494.53 L234.85,493.77 L238.79,493.01 L242.72,492.26 L246.65,491.51 L250.59,490.77 L254.52,490.04 L258.46,489.31 L262.39,488.60 L266.32,487.89 L270.26,487.18 L274.19,486.49 L278.12,485.80 L282.06,485.11 L285.99,484.43 L289.93,483.75 L293.86,483.08 L297.79,482.41 L301.73,481.74 L305.66,481.08 L309.59,480.41 L313.53,479.76 L317.46,479.10 L321.40,478.45 L325.33,477.81 L329.26,477.17 L333.20,476.53 L337.13,475.90 L341.06,475.28 L345.00,474.66 L348.93,474.04 L352.87,473.43 L356.80,472.83 L360.73,472.23 L364.67,471.64 L368.60,471.06" stroke="#2ca02c" stroke-opacity="0.5" stroke-width="1.575" fill="none" stroke-dasharray="5.83 2.52" stroke-linejoin="round"/>
<path d="M53.90,533.09 L54.69,532.48 L55.47,532.11 L56.26,531.76 L57.05,531.42 L57.83,531.08 L58.62,530.75 L59.41,530.42 L60.19,530.09 L60.98,529.76 L61.77,529.43 L62.55,529.11 L63.34,528.79 L64.13,528.47 L64.91,528.15 L65.70,527.84 L66.49,527.53 L67.27,527.22 L68.06,526.91 L68.85,526.61 L69.64,526.30 L70.42,526.01 L71.21,525.71 L72.00,525.42 L72.78,525.12 L73.57,524.84 L74.36,524.55 L75.14,524.27 L75.93,523.99 L76.72,523.71 L77.50,523.44 L81.44,522.11 L85.37,520.86 L89.30,519.67 L93.24,518.56 L97.17,517.50 L101.11,516.51 L105.04,515.56 L108.97,514.65 L112.91,513.77 L116.84,512.93 L120.77,512.11 L124.71,511.30 L128.64,510.52 L132.58,509.75 L136.51,508.99 L140.44,508.24 L144.38,507.50 L148.31,506.77 L152.24,506.04 L156.18,505.32 L160.11,504.60 L164.05,503.88 L167.98,503.17 L171.91,502.44 L175.85,501.72 L179.78,500.99 L183.71,500.25 L187.65,499.50 L191.58,498.74 L195.52,497.97 L199.45,497.18 L203.38,496.39 L207.32,495.58 L211.25,494.75 L215.18,493.91 L219.12,493.07 L223.05,492.21 L226.99,491.35 L230.92,490.48 L234.85,489.61 L238.79,488.75 L242.72,487.89 L246.65,487.03 L250.59,486.18 L254.52,485.33 L258.46,484.50 L262.39,483.67 L266.32,482.84 L270.26,482.03 L274.19,481.21 L278.12,480.41 L282.06,479.61 L285.99,478.81 L289.93,478.02 L293.86,477.23 L297.79,476.45 L301.73,475.68 L305.66,474.92 L309.59,474.17 L313.53,473.42 L317.46,472.70 L321.40,471.98 L325.33,471.28 L329.26,470.60 L333.20,469.93 L337.13,469.27 L341.06,468.64 L345.00,468.01 L348.93,467.40 L352.87,466.81 L356.80,466.22 L360.73,465.65 L364.67,465.08 L368.60,464.53" stroke="#d62728" stroke-opacity="0.5" stroke-width="1.575" fill="none" stroke-dasharray="5.83 2.52" stroke-linejoin="round"/>
<path d="M53.90,427.66 L54.69,425.96 L55.47,424.98 L56.26,424.09 L57.05,423.27 L57.83,422.50 L58.62,421.77 L59.41,421.07 L60.19,420.40 L60.98,419.77 L61.77,419.16 L62.55,418.57 L63.34,418.01 L64.13,417.46 L64.91,416.93 L65.70,416.41 L66.49,415.91 L67.27,415.42 L68.06,414.94 L68.85,414.48 L69.64,414.02 L70.42,413.58 L71.21,413.14 L72.00,412.71 L72.78,412.30 L73.57,411.89 L74.36,411.48 L75.14,411.09 L75.93,410.70 L76.72,410.32 L77.50,409.95 L81.44,408.17 L85.37,406.52 L89.30,404.98 L93.24,403.53 L97.17,402.17 L101.11,400.87 L105.04,399.65 L108.97,398.48 L112.91,397.37 L116.84,396.31 L120.77,395.30 L124.71,394.32 L128.64,393.38 L132.58,392.47 L136.51,391.60 L140.44,390.74 L144.38,389.91 L148.31,389.09 L152.24,388.28 L156.18,387.48 L160.11,386.67 L164.05,385.87 L167.98,385.06 L171.91,384.24 L175.85,383.41 L179.78,382.58 L183.71,381.74 L187.65,380.90 L191.58,380.05 L195.52,379.20 L199.45,378.36 L203.38,377.52 L207.32,376.68 L211.25,375.85 L215.18,375.03 L219.12,374.22 L223.05,373.41 L226.99,372.61 L230.92,371.82 L234.85,371.03 L238.79,370.25 L242.72,369.48 L246.65,368.71 L250.59,367.95 L254.52,367.19 L258.46,366.43 L262.39,365.67 L266.32,364.92 L270.26,364.17 L274.19,363.43 L278.12,362.68 L282.06,361.94 L285.99,361.20 L289.93,360.47 L293.86,359.73 L297.79,359.01 L301.73,358.28 L305.66,357.57 L309.59,356.86 L313.53,356.16 L317.46,355.46 L321.40,354.78 L325.33,354.10 L329.26,353.44 L333.20,352.79 L337.13,352.15 L341.06,351.51 L345.00,350.89 L348.93,350.28 L352.87,349.68 L356.80,349.08 L360.73,348.50 L364.67,347.92 L368.60,347.35" stroke="#9467bd" stroke-opacity="0.5" stroke-width="1.575" fill="none" stroke-dasharray="5.83 2.52" stroke-linejoin="round"/>
<path d="M53.90,533.08 L54.69,532.09 L55.47,531.49 L56.26,530.92 L57.05,530.36 L57.83,529.80 L58.62,529.25 L59.41,528.70 L60.19,528.16 L60.98,527.62 L61.77,527.08 L62.55,526.54 L63.34,526.00 L64.13,525.47 L64.91,524.94 L65.70,524.42 L66.49,523.90 L67.27,523.38 L68.06,522.86 L68.85,522.35 L69.64,521.83 L70.42,521.33 L71.21,520.82 L72.00,520.32 L72.78,519.82 L73.57,519.32 L74.36,518.83 L75.14,518.34 L75.93,517.86 L76.72,517.37 L77.50,516.89 L81.44,514.54 L85.37,512.27 L89.30,510.07 L93.24,507.96 L97.17,505.92 L101.11,503.94 L105.04,502.03 L108.97,500.17 L112.91,498.36 L116.84,496.59 L120.77,494.86 L124.71,493.16 L128.64,491.50 L132.58,489.86 L136.51,488.26 L140.44,486.68 L144.38,485.13 L148.31,483.60 L152.24,482.10 L156.18,480.63 L160.11,479.18 L164.05,477.76 L167.98,476.37 L171.91,474.99 L175.85,473.64 L179.78,472.31 L183.71,470.98 L187.65,469.67 L191.58,468.37 L195.52,467.07 L199.45,465.77 L203.38,464.47 L207.32,463.17 L211.25,461.86 L215.18,460.55 L219.12,459.24 L223.05,457.92 L226.99,456.61 L230.92,455.30 L234.85,454.00 L238.79,452.71 L242.72,451.43 L246.65,450.16 L250.59,448.91 L254.52,447.67 L258.46,446.45 L262.39,445.25 L266.32,444.05 L270.26,442.88 L274.19,441.71 L278.12,440.56 L282.06,439.42 L285.99,438.30 L289.93,437.18 L293.86,436.07 L297.79,434.98 L301.73,433.90 L305.66,432.82 L309.59,431.76 L313.53,430.72 L317.46,429.68 L321.40,428.66 L325.33,427.66 L329.26,426.67 L333.20,425.69 L337.13,424.73 L341.06,423.78 L345.00,422.84 L348.93,421.92 L352.87,421.01 L356.80,420.12 L360.73,419.23 L364.67,418.36 L368.60,417.50" stroke="#1f77b4" stroke-width="1.575" fill="none" stroke-linejoin="round" stroke-linecap="butt"/>
<path d="M53.90,533.08 L54.69,532.04 L55.47,531.39 L56.26,530.78 L57.05,530.19 L57.83,529.59 L58.62,529.00 L59.41,528.41 L60.19,527.82 L60.98,527.24 L61.77,526.65 L62.55,526.07 L63.34,525.49 L64.13,524.91 L64.91,524.33 L65.70,523.75 L66.49,523.17 L67.27,522.60 L68.06,522.02 L68.85,521.45 L69.64,520.88 L70.42,520.31 L71.21,519.75 L72.00,519.18 L72.78,518.61 L73.57,518.05 L74.36,517.49 L75.14,516.93 L75.93,516.37 L76.72,515.81 L77.50,515.25 L81.44,512.50 L85.37,509.77 L89.30,507.08 L93.24,504.43 L97.17,501.81 L101.11,499.22 L105.04,496.67 L108.97,494.15 L112.91,491.67 L116.84,489.23 L120.77,486.82 L124.71,484.45 L128.64,482.12 L132.58,479.82 L136.51,477.57 L140.44,475.35 L144.38,473.16 L148.31,471.01 L152.24,468.89 L156.18,466.80 L160.11,464.75 L164.05,462.72 L167.98,460.73 L171.91,458.77 L175.85,456.84 L179.78,454.95 L183.71,453.09 L187.65,451.27 L191.58,449.49 L195.52,447.75 L199.45,446.05 L203.38,444.40 L207.32,442.79 L211.25,441.22 L215.18,439.70 L219.12,438.21 L223.05,436.77 L226.99,435.36 L230.92,433.98 L234.85,432.62 L238.79,431.30 L242.72,429.99 L246.65,428.71 L250.59,427.44 L254.52,426.19 L258.46,424.96 L262.39,423.74 L266.32,422.54 L270.26,421.35 L274.19,420.18 L278.12,419.03 L282.06,417.89 L285.99,416.77 L289.93,415.66 L293.86,414.58 L297.79,413.51 L301.73,412.46 L305.66,411.44 L309.59,410.44 L313.53,409.46 L317.46,408.50 L321.40,407.57 L325.33,406.65 L329.26,405.76 L333.20,404.90 L337.13,404.05 L341.06,403.22 L345.00,402.42 L348.93,401.63 L352.87,400.85 L356.80,400.09 L360.73,399.35 L364.67,398.61 L368.60,397.89" stroke="#ff7f0e" stroke-width="1.575" fill="none" stroke-linejoin="round" stroke-linecap="butt"/>
<path d="M53.90,533.10 L54.69,533.00 L55.47,532.94 L56.26,532.88 L57.05,532.82 L57.83,532.76 L58.62,532.70 L59.41,532.63 L60.19,532.57 L60.98,532.50 L61.77,532.43 L62.55,532.36 L63.34,532.29 L64.13,532.21 L64.91,532.14 L65.70,532.06 L66.49,531.98 L67.27,531.90 L68.06,531.82 L68.85,531.74 L69.64,531.65 L70.42,531.57 L71.21,531.48 L72.00,531.39 L72.78,531.30 L73.57,531.20 L74.36,531.11 L75.14,531.02 L75.93,530.92 L76.72,530.82 L77.50,530.73 L81.44,530.23 L85.37,529.71 L89.30,529.20 L93.24,528.69 L97.17,528.18 L101.11,527.68 L105.04,527.18 L108.97,526.67 L112.91,526.17 L116.84,525.66 L120.77,525.15 L124.71,524.62 L128.64,524.09 L132.58,523.55 L136.51,522.99 L140.44,522.43 L144.38,521.86 L148.31,521.29 L152.24,520.71 L156.18,520.13 L160.11,519.55 L164.05,518.97 L167.98,518.39 L171.91,517.81 L175.85,517.23 L179.78,516.66 L183.71,516.08 L187.65,515.49 L191.58,514.90 L195.52,514.31 L199.45,513.70 L203.38,513.09 L207.32,512.46 L211.25,511.82 L215.18,511.17 L219.12,510.50 L223.05,509.82 L226.99,509.13 L230.92,508.43 L234.85,507.72 L238.79,507.00 L242.72,506.27 L246.65,505.54 L250.59,504.80 L254.52,504.06 L258.46,503.32 L262.39,502.57 L266.32,501.83 L270.26,501.09 L274.19,500.35 L278.12,499.62 L282.06,498.89 L285.99,498.17 L289.93,497.45 L293.86,496.74 L297.79,496.04 L301.73,495.35 L305.66,494.67 L309.59,494.00 L313.53,493.34 L317.46,492.68 L321.40,492.04 L325.33,491.41 L329.26,490.78 L333.20,490.17 L337.13,489.56 L341.06,488.96 L345.00,488.37 L348.93,487.79 L352.87,487.22 L356.80,486.65 L360.73,486.09 L364.67,485.54 L368.60,485.00" stroke="#2ca02c" stroke-width="1.575" fill="none" stroke-linejoin="round" stroke-linecap="butt"/>
<path d="M53.90,533.10 L54.69,532.95 L55.47,532.86 L56.26,532.78 L57.05,532.69 L57.83,532.61 L58.62,532.52 L59.41,532.43 L60.19,532.35 L60.98,532.26 L61.77,532.17 L62.55,532.08 L63.34,531.99 L64.13,531.90 L64.91,531.81 L65.70,531.72 L66.49,531.62 L67.27,531.53 L68.06,531.44 L68.85,531.34 L69.64,531.25 L70.42,531.15 L71.21,531.06 L72.00,530.96 L72.78,530.86 L73.57,530.76 L74.36,530.66 L75.14,530.57 L75.93,530.47 L76.72,530.37 L77.50,530.27 L81.44,529.76 L85.37,529.25 L89.30,528.74 L93.24,528.22 L97.17,527.71 L101.11,527.19 L105.04,526.68 L108.97,526.16 L112.91,525.63 L116.84,525.10 L120.77,524.57 L124.71,524.02 L128.64,523.47 L132.58,522.91 L136.51,522.33 L140.44,521.75 L144.38,521.16 L148.31,520.56 L152.24,519.95 L156.18,519.33 L160.11,518.70 L164.05,518.06 L167.98,517.41 L171.91,516.76 L175.85,516.10 L179.78,515.43 L183.71,514.75 L187.65,514.07 L191.58,513.38 L195.52,512.69 L199.45,512.00 L203.38,511.31 L207.32,510.61 L211.25,509.92 L215.18,509.23 L219.12,508.54 L223.05,507.84 L226.99,507.15 L230.92,506.47 L234.85,505.78 L238.79,505.09 L242.72,504.40 L246.65,503.71 L250.59,503.03 L254.52,502.34 L258.46,501.66 L262.39,500.97 L266.32,500.29 L270.26,499.60 L274.19,498.92 L278.12,498.24 L282.06,497.56 L285.99,496.87 L289.93,496.19 L293.86,495.51 L297.79,494.83 L301.73,494.16 L305.66,493.48 L309.59,492.80 L313.53,492.12 L317.46,491.45 L321.40,490.77 L325.33,490.10 L329.26,489.43 L333.20,488.75 L337.13,488.08 L341.06,487.41 L345.00,486.75 L348.93,486.08 L352.87,485.42 L356.80,484.76 L360.73,484.11 L364.67,483.46 L368.60,482.82" stroke="#d62728" stroke-width="1.575" fill="none" stroke-linejoin="round" stroke-linecap="butt"/>
<path d="M53.90,531.96 L54.69,528.21 L55.47,525.99 L56.26,523.93 L57.05,521.96 L57.83,520.06 L58.62,518.21 L59.41,516.42 L60.19,514.68 L60.98,512.99 L61.77,511.35 L62.55,509.76 L63.34,508.21 L64.13,506.70 L64.91,505.23 L65.70,503.79 L66.49,502.39 L67.27,501.02 L68.06,499.68 L68.85,498.37 L69.64,497.07 L70.42,495.80 L71.21,494.55 L72.00,493.32 L72.78,492.10 L73.57,490.90 L74.36,489.71 L75.14,488.53 L75.93,487.36 L76.72,486.21 L77.50,485.06 L81.44,479.48 L85.37,474.14 L89.30,469.08 L93.24,464.35 L97.17,459.95 L101.11,455.88 L105.04,452.12 L108.97,448.62 L112.91,445.35 L116.84,442.26 L120.77,439.33 L124.71,436.52 L128.64,433.82 L132.58,431.21 L136.51,428.69 L140.44,426.25 L144.38,423.89 L148.31,421.61 L152.24,419.40 L156.18,417.28 L160.11,415.25 L164.05,413.30 L167.98,411.43 L171.91,409.64 L175.85,407.93 L179.78,406.29 L183.71,404.72 L187.65,403.21 L191.58,401.74 L195.52,400.32 L199.45,398.94 L203.38,397.59 L207.32,396.26 L211.25,394.96 L215.18,393.68 L219.12,392.42 L223.05,391.18 L226.99,389.96 L230.92,388.75 L234.85,387.56 L238.79,386.40 L242.72,385.25 L246.65,384.12 L250.59,383.01 L254.52,381.93 L258.46,380.86 L262.39,379.82 L266.32,378.79 L270.26,377.79 L274.19,376.81 L278.12,375.84 L282.06,374.90 L285.99,373.97 L289.93,373.06 L293.86,372.16 L297.79,371.28 L301.73,370.42 L305.66,369.56 L309.59,368.72 L313.53,367.88 L317.46,367.05 L321.40,366.23 L325.33,365.42 L329.26,364.61 L333.20,363.80 L337.13,363.00 L341.06,362.20 L345.00,361.40 L348.93,360.61 L352.87,359.82 L356.80,359.03 L360.73,358.25 L364.67,357.48 L368.60,356.72" stroke="#9467bd" stroke-width="1.575" fill="none" stroke-linejoin="round" stroke-linecap="butt"/>
<path d="M53.90,533.09 L54.69,532.47 L55.47,532.09 L56.26,531.73 L57.05,531.38 L57.83,531.03 L58.62,530.69 L59.41,530.34 L60.19,530.00 L60.98,529.67 L61.77,529.33 L62.55,529.00 L63.34,528.66 L64.13,528.33 L64.91,528.01 L65.70,527.68 L66.49,527.36 L67.27,527.04 L68.06,526.72 L68.85,526.40 L69.64,526.09 L70.42,525.78 L71.21,525.47 L72.00,525.17 L72.78,524.86 L73.57,524.56 L74.36,524.26 L75.14,523.97 L75.93,523.67 L76.72,523.38 L77.50,523.09 L81.44,521.69 L85.37,520.35 L89.30,519.09 L93.24,517.88 L97.17,516.73 L101.11,515.64 L105.04,514.59 L108.97,513.57 L112.91,512.59 L116.84,511.62 L120.77,510.67 L124.71,509.73 L128.64,508.79 L132.58,507.86 L136.51,506.93 L140.44,506.00 L144.38,505.08 L148.31,504.18 L152.24,503.28 L156.18,502.40 L160.11,501.54 L164.05,500.69 L167.98,499.86 L171.91,499.05 L175.85,498.25 L179.78,497.47 L183.71,496.68 L187.65,495.89 L191.58,495.10 L195.52,494.28 L199.45,493.45 L203.38,492.59 L207.32,491.71 L211.25,490.79 L215.18,489.85 L219.12,488.88 L223.05,487.90 L226.99,486.90 L230.92,485.89 L234.85,484.89 L238.79,483.89 L242.72,482.89 L246.65,481.92 L250.59,480.96 L254.52,480.02 L258.46,479.11 L262.39,478.21 L266.32,477.33 L270.26,476.47 L274.19,475.63 L278.12,474.80 L282.06,473.98 L285.99,473.16 L289.93,472.36 L293.86,471.55 L297.79,470.75 L301.73,469.96 L305.66,469.16 L309.59,468.37 L313.53,467.57 L317.46,466.78 L321.40,465.99 L325.33,465.20 L329.26,464.41 L333.20,463.62 L337.13,462.83 L341.06,462.05 L345.00,461.27 L348.93,460.49 L352.87,459.72 L356.80,458.95 L360.73,458.19 L364.67,457.43 L368.60,456.69" stroke="#8c564b" stroke-width="1.575" fill="none" stroke-linejoin="round" stroke-linecap="butt"/>
</g>
<rect x="39.00" y="308.40" width="344.65" height="224.70" fill="none" stroke="#000" stroke-width="0.84"/>
<path d="M53.90,533.10v4.1M93.24,533.10v4.1M132.58,533.10v4.1M171.91,533.10v4.1M211.25,533.10v4.1M250.59,533.10v4.1M289.93,533.10v4.1M329.26,533.10v4.1M368.60,533.10v4.1M39.00,533.10h-4.1M39.00,489.54h-4.1M39.00,445.98h-4.1M39.00,402.42h-4.1M39.00,358.86h-4.1M39.00,315.30h-4.1" stroke="#000" stroke-width="0.84" fill="none"/>
<text x="53.90" y="548.40" font-size="11.13" text-anchor="middle" textLength="22.90" lengthAdjust="spacingAndGlyphs">0.00</text>
<text x="93.24" y="548.40" font-size="11.13" text-anchor="middle" textLength="22.74" lengthAdjust="spacingAndGlyphs">0.05</text>
<text x="132.58" y="548.40" font-size="11.13" text-anchor="middle" textLength="22.90" lengthAdjust="spacingAndGlyphs">0.10</text>
<text x="171.91" y="548.40" font-size="11.13" text-anchor="middle" textLength="22.74" lengthAdjust="spacingAndGlyphs">0.15</text>
<text x="211.25" y="548.40" font-size="11.13" text-anchor="middle" textLength="22.90" lengthAdjust="spacingAndGlyphs">0.20</text>
<text x="250.59" y="548.40" font-size="11.13" text-anchor="middle" textLength="22.74" lengthAdjust="spacingAndGlyphs">0.25</text>
<text x="289.93" y="548.40" font-size="11.13" text-anchor="middle" textLength="22.90" lengthAdjust="spacingAndGlyphs">0.30</text>
<text x="329.26" y="548.40" font-size="11.13" text-anchor="middle" textLength="22.74" lengthAdjust="spacingAndGlyphs">0.35</text>
<text x="368.60" y="548.40" font-size="11.13" text-anchor="middle" textLength="22.90" lengthAdjust="spacingAndGlyphs">0.40</text>
<text x="31.05" y="537.00" font-size="11.13" text-anchor="end" textLength="16.21" lengthAdjust="spacingAndGlyphs">0.0</text>
<text x="31.05" y="493.44" font-size="11.13" text-anchor="end" textLength="16.00" lengthAdjust="spacingAndGlyphs">0.2</text>
<text x="31.05" y="449.88" font-size="11.13" text-anchor="end" textLength="16.26" lengthAdjust="spacingAndGlyphs">0.4</text>
<text x="31.05" y="406.32" font-size="11.13" text-anchor="end" textLength="16.32" lengthAdjust="spacingAndGlyphs">0.6</text>
<text x="31.05" y="362.76" font-size="11.13" text-anchor="end" textLength="16.27" lengthAdjust="spacingAndGlyphs">0.8</text>
<text x="31.05" y="319.20" font-size="11.13" text-anchor="end" textLength="16.14" lengthAdjust="spacingAndGlyphs">1.0</text>
<text x="211.32" y="562.40" font-size="11.13" text-anchor="middle" textLength="97.95" lengthAdjust="spacingAndGlyphs">Threshold (meters)</text>
<text x="9.50" y="420.75" font-size="11.13" text-anchor="middle" textLength="31.75" lengthAdjust="spacingAndGlyphs" transform="rotate(-90 9.50 420.75)">Inliers</text>
<text x="211.32" y="302.20" font-size="13.36" text-anchor="middle" textLength="37.14" lengthAdjust="spacingAndGlyphs">Recall</text>
<rect x="291.20" y="432.40" width="87.10" height="96.10" rx="2.1" ry="2.1" fill="#fff" fill-opacity="0.8" stroke="#cccccc" stroke-opacity="0.8" stroke-width="0.84"/>
<path d="M295.10,441.30h21" stroke="#1f77b4" stroke-width="1.575"/>
<text x="324.40" y="444.30" font-size="11.13" font-style="italic" textLength="8.04" lengthAdjust="spacingAndGlyphs">D</text>
<text x="332.54" y="446.10" font-size="8.46" textLength="4.44" lengthAdjust="spacingAndGlyphs">1</text>
<path d="M295.10,456.75h21" stroke="#ff7f0e" stroke-width="1.575"/>
<text x="324.40" y="459.75" font-size="11.13" font-style="italic" textLength="8.04" lengthAdjust="spacingAndGlyphs">D</text>
<text x="332.54" y="461.55" font-size="8.46" textLength="4.49" lengthAdjust="spacingAndGlyphs">2</text>
<path d="M295.10,472.20h21" stroke="#2ca02c" stroke-width="1.575"/>
<text x="324.40" y="475.20" font-size="11.13" font-style="italic" textLength="8.04" lengthAdjust="spacingAndGlyphs">D</text>
<text x="332.54" y="477.00" font-size="8.46" textLength="4.48" lengthAdjust="spacingAndGlyphs">3</text>
<path d="M295.10,487.65h21" stroke="#d62728" stroke-width="1.575"/>
<text x="324.40" y="490.65" font-size="11.13" font-style="italic" textLength="8.04" lengthAdjust="spacingAndGlyphs">D</text>
<text x="332.54" y="492.45" font-size="8.46" textLength="4.66" lengthAdjust="spacingAndGlyphs">4</text>
<path d="M295.10,503.10h21" stroke="#9467bd" stroke-width="1.575"/>
<text x="324.40" y="506.10" font-size="11.13" font-style="italic" textLength="8.04" lengthAdjust="spacingAndGlyphs">D</text>
<text x="332.54" y="507.90" font-size="8.46" textLength="4.44" lengthAdjust="spacingAndGlyphs">5</text>
<path d="M295.10,518.55h21" stroke="#8c564b" stroke-width="1.575"/>
<text x="324.40" y="522.25" font-size="11.13" text-anchor="start" textLength="51.07" lengthAdjust="spacingAndGlyphs">Overhead</text>
<clipPath id="clipBR"><rect x="449.05" y="308.4" width="345.55" height="224.70"/></clipPath>
<path d="M464.30,308.40V533.10M503.64,308.40V533.10M542.98,308.40V533.10M582.31,308.40V533.10M621.65,308.40V533.10M660.99,308.40V533.10M700.33,308.40V533.10M739.66,308.40V533.10M779.00,308.40V533.10M449.05,533.10H794.60M449.05,489.56H794.60M449.05,446.02H794.60M449.05,402.48H794.60M449.05,358.94H794.60M449.05,315.40H794.60" stroke="#b0b0b0" stroke-width="0.84" fill="none"/>
<g clip-path="url(#clipBR)">
<path d="M464.30,530.83 L465.09,524.91 L465.87,521.34 L466.66,518.00 L467.45,514.75 L468.23,511.57 L469.02,508.43 L469.81,505.35 L470.59,502.30 L471.38,499.30 L472.17,496.34 L472.95,493.42 L473.74,490.55 L474.53,487.71 L475.31,484.92 L476.10,482.17 L476.89,479.46 L477.67,476.79 L478.46,474.16 L479.25,471.57 L480.04,469.03 L480.82,466.52 L481.61,464.05 L482.40,461.62 L483.18,459.23 L483.97,456.88 L484.76,454.56 L485.54,452.29 L486.33,450.04 L487.12,447.84 L487.90,445.66 L491.84,435.32 L495.77,425.81 L499.70,417.10 L503.64,409.13 L507.57,401.86 L511.50,395.21 L515.44,389.11 L519.37,383.50 L523.31,378.33 L527.24,373.57 L531.17,369.20 L535.11,365.18 L539.04,361.48 L542.98,358.09 L546.91,354.97 L550.84,352.09 L554.78,349.43 L558.71,346.96 L562.64,344.65 L566.58,342.48 L570.51,340.44 L574.45,338.51 L578.38,336.68 L582.31,334.95 L586.25,333.30 L590.18,331.74 L594.11,330.27 L598.05,328.90 L601.98,327.62 L605.91,326.44 L609.85,325.36 L613.78,324.37 L617.72,323.48 L621.65,322.69 L625.58,321.98 L629.52,321.35 L633.45,320.79 L637.38,320.30 L641.32,319.86 L645.25,319.47 L649.19,319.12 L653.12,318.81 L657.05,318.53 L660.99,318.28 L664.92,318.05 L668.86,317.84 L672.79,317.64 L676.72,317.46 L680.66,317.30 L684.59,317.15 L688.52,317.00 L692.46,316.87 L696.39,316.75 L700.32,316.63 L704.26,316.53 L708.19,316.43 L712.13,316.33 L716.06,316.25 L719.99,316.16 L723.93,316.09 L727.86,316.01 L731.80,315.95 L735.73,315.88 L739.66,315.83 L743.60,315.77 L747.53,315.72 L751.46,315.67 L755.40,315.63 L759.33,315.59 L763.26,315.55 L767.20,315.51 L771.13,315.47 L775.07,315.44 L779.00,315.40 L779.00,331.10 L775.07,331.48 L771.13,331.87 L767.20,332.27 L763.26,332.67 L759.33,333.08 L755.40,333.50 L751.46,333.93 L747.53,334.37 L743.60,334.82 L739.66,335.28 L735.73,335.76 L731.80,336.25 L727.86,336.76 L723.93,337.29 L719.99,337.83 L716.06,338.40 L712.13,338.98 L708.19,339.59 L704.26,340.22 L700.32,340.89 L696.39,341.58 L692.46,342.30 L688.52,343.06 L684.59,343.85 L680.66,344.68 L676.72,345.55 L672.79,346.46 L668.86,347.40 L664.92,348.39 L660.99,349.41 L657.05,350.47 L653.12,351.56 L649.19,352.69 L645.25,353.87 L641.32,355.08 L637.38,356.33 L633.45,357.63 L629.52,358.98 L625.58,360.38 L621.65,361.83 L617.72,363.35 L613.78,364.93 L609.85,366.58 L605.91,368.29 L601.98,370.09 L598.05,371.95 L594.11,373.90 L590.18,375.93 L586.25,378.04 L582.31,380.24 L578.38,382.52 L574.45,384.89 L570.51,387.34 L566.58,389.89 L562.64,392.52 L558.71,395.24 L554.78,398.05 L550.84,400.96 L546.91,403.96 L542.98,407.07 L539.04,410.30 L535.11,413.67 L531.17,417.19 L527.24,420.89 L523.31,424.81 L519.37,429.01 L515.44,433.53 L511.50,438.47 L507.57,443.90 L503.64,449.89 L499.70,456.49 L495.77,463.70 L491.84,471.44 L487.90,479.60 L487.12,481.27 L486.33,482.95 L485.54,484.63 L484.76,486.33 L483.97,488.03 L483.18,489.74 L482.40,491.45 L481.61,493.16 L480.82,494.88 L480.04,496.60 L479.25,498.32 L478.46,500.03 L477.67,501.75 L476.89,503.47 L476.10,505.18 L475.31,506.89 L474.53,508.60 L473.74,510.31 L472.95,512.01 L472.17,513.71 L471.38,515.40 L470.59,517.10 L469.81,518.79 L469.02,520.47 L468.23,522.16 L467.45,523.85 L466.66,525.54 L465.87,527.25 L465.09,529.05 L464.30,531.97Z" fill="#1f77b4" fill-opacity="0.1" stroke="none"/>
<path d="M464.30,533.07 L465.09,531.27 L465.87,530.16 L466.66,529.11 L467.45,528.08 L468.23,527.05 L469.02,526.03 L469.81,525.02 L470.59,524.01 L471.38,523.00 L472.17,521.99 L472.95,520.98 L473.74,519.98 L474.53,518.98 L475.31,517.98 L476.10,516.99 L476.89,515.99 L477.67,515.00 L478.46,514.02 L479.25,513.03 L480.04,512.05 L480.82,511.07 L481.61,510.09 L482.40,509.11 L483.18,508.14 L483.97,507.17 L484.76,506.20 L485.54,505.24 L486.33,504.27 L487.12,503.31 L487.90,502.36 L491.84,497.60 L495.77,492.91 L499.70,488.28 L503.64,483.70 L507.57,479.18 L511.50,474.72 L515.44,470.32 L519.37,465.99 L523.31,461.74 L527.24,457.57 L531.17,453.50 L535.11,449.54 L539.04,445.72 L542.98,442.05 L546.91,438.55 L550.84,435.23 L554.78,432.10 L558.71,429.16 L562.64,426.42 L566.58,423.86 L570.51,421.48 L574.45,419.25 L578.38,417.16 L582.31,415.19 L586.25,413.33 L590.18,411.56 L594.11,409.88 L598.05,408.26 L601.98,406.71 L605.91,405.21 L609.85,403.75 L613.78,402.33 L617.72,400.95 L621.65,399.60 L625.58,398.27 L629.52,396.96 L633.45,395.66 L637.38,394.37 L641.32,393.10 L645.25,391.83 L649.19,390.57 L653.12,389.31 L657.05,388.06 L660.99,386.82 L664.92,385.60 L668.86,384.39 L672.79,383.20 L676.72,382.04 L680.66,380.91 L684.59,379.82 L688.52,378.75 L692.46,377.73 L696.39,376.73 L700.32,375.78 L704.26,374.86 L708.19,373.97 L712.13,373.11 L716.06,372.28 L719.99,371.47 L723.93,370.69 L727.86,369.93 L731.80,369.19 L735.73,368.46 L739.66,367.75 L743.60,367.05 L747.53,366.36 L751.46,365.68 L755.40,365.01 L759.33,364.35 L763.26,363.69 L767.20,363.05 L771.13,362.41 L775.07,361.77 L779.00,361.15 L779.00,508.51 L775.07,508.70 L771.13,508.89 L767.20,509.08 L763.26,509.28 L759.33,509.48 L755.40,509.68 L751.46,509.89 L747.53,510.10 L743.60,510.31 L739.66,510.52 L735.73,510.74 L731.80,510.97 L727.86,511.19 L723.93,511.42 L719.99,511.66 L716.06,511.90 L712.13,512.14 L708.19,512.39 L704.26,512.64 L700.32,512.90 L696.39,513.16 L692.46,513.43 L688.52,513.70 L684.59,513.98 L680.66,514.26 L676.72,514.55 L672.79,514.84 L668.86,515.14 L664.92,515.44 L660.99,515.75 L657.05,516.07 L653.12,516.39 L649.19,516.72 L645.25,517.06 L641.32,517.40 L637.38,517.75 L633.45,518.10 L629.52,518.45 L625.58,518.82 L621.65,519.18 L617.72,519.54 L613.78,519.91 L609.85,520.27 L605.91,520.63 L601.98,520.98 L598.05,521.32 L594.11,521.65 L590.18,521.97 L586.25,522.28 L582.31,522.58 L578.38,522.87 L574.45,523.17 L570.51,523.48 L566.58,523.81 L562.64,524.16 L558.71,524.54 L554.78,524.94 L550.84,525.37 L546.91,525.80 L542.98,526.24 L539.04,526.66 L535.11,527.06 L531.17,527.43 L527.24,527.77 L523.31,528.07 L519.37,528.35 L515.44,528.62 L511.50,528.88 L507.57,529.15 L503.64,529.43 L499.70,529.72 L495.77,530.03 L491.84,530.36 L487.90,530.70 L487.12,530.77 L486.33,530.84 L485.54,530.91 L484.76,530.98 L483.97,531.06 L483.18,531.13 L482.40,531.20 L481.61,531.28 L480.82,531.35 L480.04,531.43 L479.25,531.50 L478.46,531.58 L477.67,531.66 L476.89,531.73 L476.10,531.81 L475.31,531.89 L474.53,531.97 L473.74,532.05 L472.95,532.13 L472.17,532.20 L471.38,532.28 L470.59,532.37 L469.81,532.45 L469.02,532.53 L468.23,532.61 L467.45,532.69 L466.66,532.78 L465.87,532.86 L465.09,532.95 L464.30,533.10Z" fill="#ff7f0e" fill-opacity="0.1" stroke="none"/>
<path d="M464.30,531.29 L465.09,527.12 L465.87,524.47 L466.66,521.90 L467.45,519.32 L468.23,516.72 L469.02,514.11 L469.81,511.49 L470.59,508.87 L471.38,506.26 L472.17,503.67 L472.95,501.11 L473.74,498.58 L474.53,496.08 L475.31,493.64 L476.10,491.24 L476.89,488.88 L477.67,486.58 L478.46,484.33 L479.25,482.13 L480.04,479.98 L480.82,477.88 L481.61,475.83 L482.40,473.83 L483.18,471.86 L483.97,469.95 L484.76,468.07 L485.54,466.24 L486.33,464.44 L487.12,462.68 L487.90,460.96 L491.84,452.84 L495.77,445.48 L499.70,438.77 L503.64,432.63 L507.57,426.95 L511.50,421.64 L515.44,416.65 L519.37,411.91 L523.31,407.40 L527.24,403.12 L531.17,399.06 L535.11,395.23 L539.04,391.62 L542.98,388.24 L546.91,385.08 L550.84,382.11 L554.78,379.33 L558.71,376.72 L562.64,374.26 L566.58,371.95 L570.51,369.76 L574.45,367.69 L578.38,365.74 L582.31,363.88 L586.25,362.13 L590.18,360.47 L594.11,358.89 L598.05,357.40 L601.98,355.98 L605.91,354.64 L609.85,353.38 L613.78,352.19 L617.72,351.06 L621.65,349.99 L625.58,348.99 L629.52,348.04 L633.45,347.14 L637.38,346.29 L641.32,345.48 L645.25,344.71 L649.19,343.97 L653.12,343.26 L657.05,342.59 L660.99,341.94 L664.92,341.32 L668.86,340.72 L672.79,340.15 L676.72,339.61 L680.66,339.09 L684.59,338.59 L688.52,338.12 L692.46,337.67 L696.39,337.23 L700.32,336.81 L704.26,336.41 L708.19,336.02 L712.13,335.65 L716.06,335.29 L719.99,334.95 L723.93,334.61 L727.86,334.29 L731.80,333.98 L735.73,333.69 L739.66,333.40 L743.60,333.13 L747.53,332.87 L751.46,332.61 L755.40,332.37 L759.33,332.14 L763.26,331.92 L767.20,331.70 L771.13,331.49 L775.07,331.29 L779.00,331.09" stroke="#1f77b4" stroke-width="1.575" fill="none" stroke-linejoin="round" stroke-linecap="butt"/>
<path d="M464.30,533.08 L465.09,531.86 L465.87,531.12 L466.66,530.42 L467.45,529.73 L468.23,529.05 L469.02,528.37 L469.81,527.70 L470.59,527.03 L471.38,526.37 L472.17,525.71 L472.95,525.06 L473.74,524.41 L474.53,523.76 L475.31,523.12 L476.10,522.48 L476.89,521.85 L477.67,521.22 L478.46,520.59 L479.25,519.97 L480.04,519.35 L480.82,518.74 L481.61,518.13 L482.40,517.53 L483.18,516.93 L483.97,516.34 L484.76,515.75 L485.54,515.16 L486.33,514.58 L487.12,514.01 L487.90,513.44 L491.84,510.66 L495.77,508.00 L499.70,505.46 L503.64,503.04 L507.57,500.72 L511.50,498.50 L515.44,496.37 L519.37,494.31 L523.31,492.32 L527.24,490.39 L531.17,488.52 L535.11,486.69 L539.04,484.91 L542.98,483.17 L546.91,481.46 L550.84,479.80 L554.78,478.18 L558.71,476.60 L562.64,475.07 L566.58,473.58 L570.51,472.15 L574.45,470.76 L578.38,469.43 L582.31,468.14 L586.25,466.90 L590.18,465.71 L594.11,464.56 L598.05,463.45 L601.98,462.39 L605.91,461.36 L609.85,460.36 L613.78,459.40 L617.72,458.47 L621.65,457.57 L625.58,456.70 L629.52,455.86 L633.45,455.04 L637.38,454.25 L641.32,453.48 L645.25,452.74 L649.19,452.02 L653.12,451.33 L657.05,450.65 L660.99,450.00 L664.92,449.36 L668.86,448.75 L672.79,448.15 L676.72,447.57 L680.66,447.00 L684.59,446.45 L688.52,445.91 L692.46,445.39 L696.39,444.87 L700.32,444.37 L704.26,443.88 L708.19,443.40 L712.13,442.93 L716.06,442.46 L719.99,442.01 L723.93,441.57 L727.86,441.14 L731.80,440.71 L735.73,440.30 L739.66,439.89 L743.60,439.49 L747.53,439.11 L751.46,438.73 L755.40,438.35 L759.33,437.99 L763.26,437.63 L767.20,437.27 L771.13,436.92 L775.07,436.58 L779.00,436.24" stroke="#ff7f0e" stroke-width="1.575" fill="none" stroke-linejoin="round" stroke-linecap="butt"/>
</g>
<rect x="449.05" y="308.40" width="345.55" height="224.70" fill="none" stroke="#000" stroke-width="0.84"/>
<path d="M464.30,533.10v4.1M503.64,533.10v4.1M542.98,533.10v4.1M582.31,533.10v4.1M621.65,533.10v4.1M660.99,533.10v4.1M700.33,533.10v4.1M739.66,533.10v4.1M779.00,533.10v4.1M449.05,533.10h-4.1M449.05,489.56h-4.1M449.05,446.02h-4.1M449.05,402.48h-4.1M449.05,358.94h-4.1M449.05,315.40h-4.1" stroke="#000" stroke-width="0.84" fill="none"/>
<text x="464.30" y="548.40" font-size="11.13" text-anchor="middle" textLength="22.90" lengthAdjust="spacingAndGlyphs">0.00</text>
<text x="503.64" y="548.40" font-size="11.13" text-anchor="middle" textLength="22.74" lengthAdjust="spacingAndGlyphs">0.05</text>
<text x="542.98" y="548.40" font-size="11.13" text-anchor="middle" textLength="22.90" lengthAdjust="spacingAndGlyphs">0.10</text>
<text x="582.31" y="548.40" font-size="11.13" text-anchor="middle" textLength="22.74" lengthAdjust="spacingAndGlyphs">0.15</text>
<text x="621.65" y="548.40" font-size="11.13" text-anchor="middle" textLength="22.90" lengthAdjust="spacingAndGlyphs">0.20</text>
<text x="660.99" y="548.40" font-size="11.13" text-anchor="middle" textLength="22.74" lengthAdjust="spacingAndGlyphs">0.25</text>
<text x="700.33" y="548.40" font-size="11.13" text-anchor="middle" textLength="22.90" lengthAdjust="spacingAndGlyphs">0.30</text>
<text x="739.66" y="548.40" font-size="11.13" text-anchor="middle" textLength="22.74" lengthAdjust="spacingAndGlyphs">0.35</text>
<text x="779.00" y="548.40" font-size="11.13" text-anchor="middle" textLength="22.90" lengthAdjust="spacingAndGlyphs">0.40</text>
<text x="441.10" y="537.00" font-size="11.13" text-anchor="end" textLength="16.21" lengthAdjust="spacingAndGlyphs">0.0</text>
<text x="441.10" y="493.46" font-size="11.13" text-anchor="end" textLength="16.00" lengthAdjust="spacingAndGlyphs">0.2</text>
<text x="441.10" y="449.92" font-size="11.13" text-anchor="end" textLength="16.26" lengthAdjust="spacingAndGlyphs">0.4</text>
<text x="441.10" y="406.38" font-size="11.13" text-anchor="end" textLength="16.32" lengthAdjust="spacingAndGlyphs">0.6</text>
<text x="441.10" y="362.84" font-size="11.13" text-anchor="end" textLength="16.27" lengthAdjust="spacingAndGlyphs">0.8</text>
<text x="441.10" y="319.30" font-size="11.13" text-anchor="end" textLength="16.14" lengthAdjust="spacingAndGlyphs">1.0</text>
<text x="621.83" y="562.40" font-size="11.13" text-anchor="middle" textLength="97.95" lengthAdjust="spacingAndGlyphs">Threshold (meters)</text>
<text x="419.55" y="420.75" font-size="11.13" text-anchor="middle" textLength="31.75" lengthAdjust="spacingAndGlyphs" transform="rotate(-90 419.55 420.75)">Inliers</text>
<text x="621.83" y="302.20" font-size="13.36" text-anchor="middle" textLength="37.14" lengthAdjust="spacingAndGlyphs">Recall</text>
<rect x="627.40" y="494.30" width="162.20" height="34.00" rx="2.1" ry="2.1" fill="#fff" fill-opacity="0.8" stroke="#cccccc" stroke-opacity="0.8" stroke-width="0.84"/>
<path d="M630.10,502.40h22" stroke="#1f77b4" stroke-width="1.575"/>
<path d="M630.10,518.20h22" stroke="#ff7f0e" stroke-width="1.575"/>
<text x="660.50" y="505.80" font-size="11.13" font-style="italic" textLength="8.04" lengthAdjust="spacingAndGlyphs">D</text>
<text x="668.64" y="507.60" font-size="8.46" textLength="4.44" lengthAdjust="spacingAndGlyphs">1</text>
<text x="673.10" y="505.80" font-size="11.13">,</text>
<text x="678.50" y="505.80" font-size="11.13" font-style="italic" textLength="8.04" lengthAdjust="spacingAndGlyphs">D</text>
<text x="686.64" y="507.60" font-size="8.46" textLength="4.49" lengthAdjust="spacingAndGlyphs">2</text>
<text x="691.10" y="505.80" font-size="11.13">,</text>
<text x="696.50" y="505.80" font-size="11.13" font-style="italic" textLength="8.04" lengthAdjust="spacingAndGlyphs">D</text>
<text x="704.64" y="507.60" font-size="8.46" textLength="4.48" lengthAdjust="spacingAndGlyphs">3</text>
<text x="709.10" y="505.80" font-size="11.13">,</text>
<text x="714.50" y="505.80" font-size="11.13" font-style="italic" textLength="8.04" lengthAdjust="spacingAndGlyphs">D</text>
<text x="722.64" y="507.60" font-size="8.46" textLength="4.66" lengthAdjust="spacingAndGlyphs">4</text>
<text x="727.10" y="505.80" font-size="11.13">,</text>
<text x="734.50" y="505.80" font-size="11.13" text-anchor="start" textLength="51.07" lengthAdjust="spacingAndGlyphs">Overhead</text>
<text x="660.50" y="521.90" font-size="11.13" text-anchor="start" textLength="107.14" lengthAdjust="spacingAndGlyphs">Tulsiani et al. (2018)</text>
</svg>
</body></html>
